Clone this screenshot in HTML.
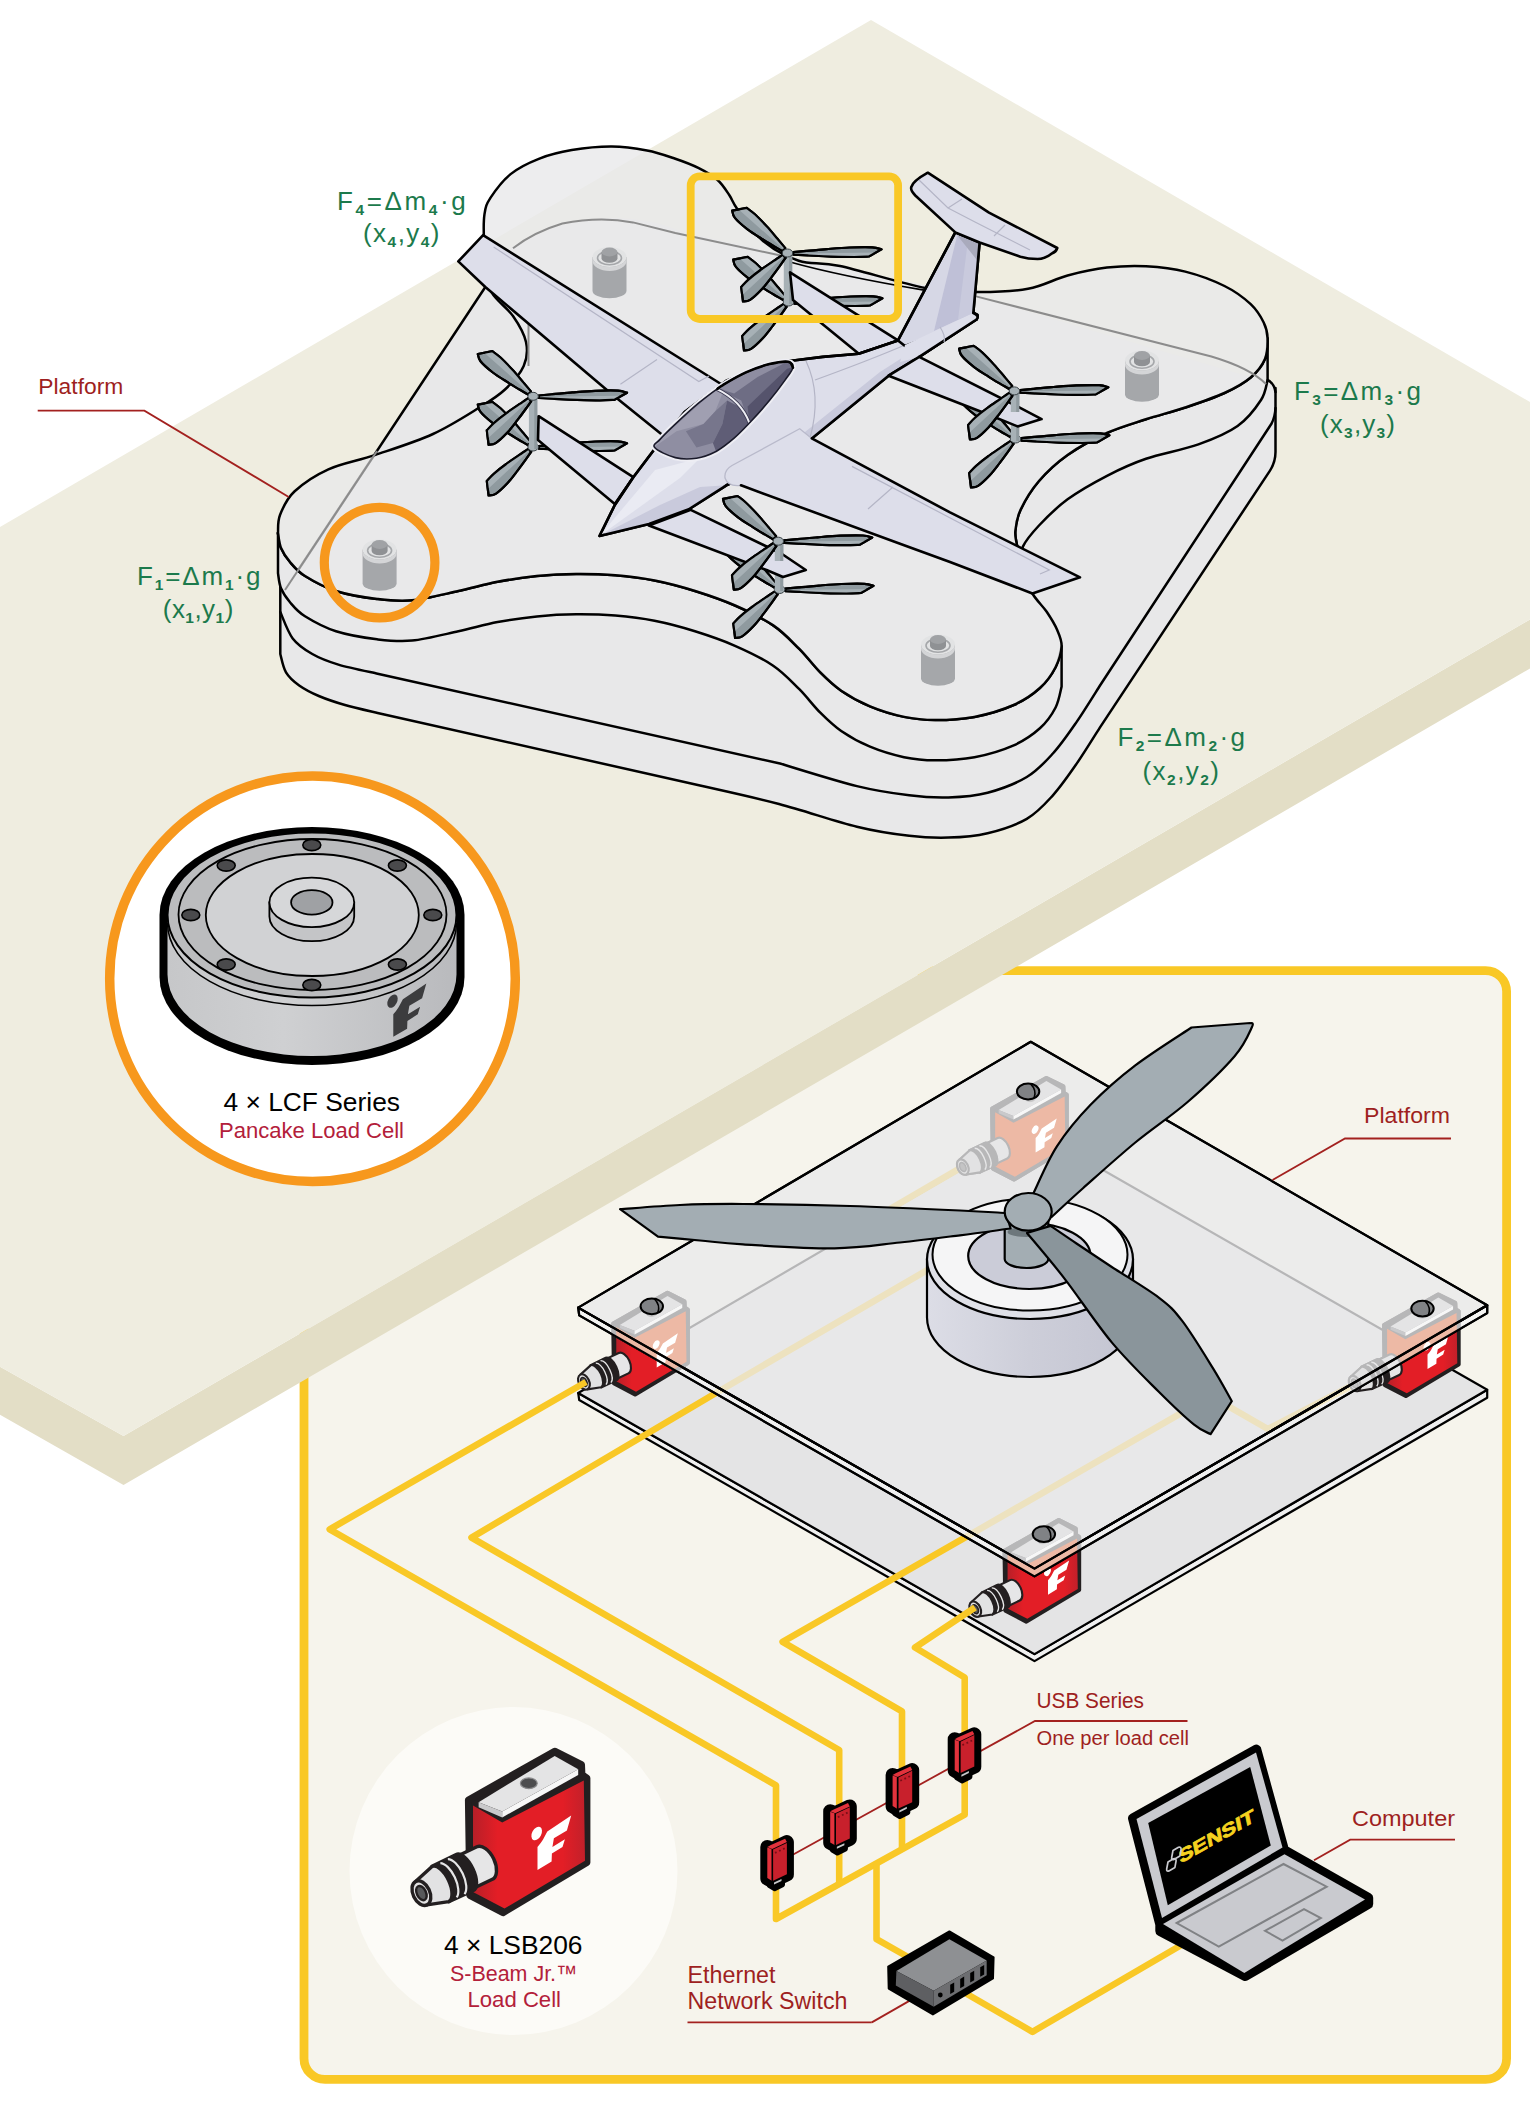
<!DOCTYPE html>
<html><head><meta charset="utf-8"><title>Thrust stand diagram</title>
<style>html,body{margin:0;padding:0;background:#fff}svg{display:block}text{font-family:"Liberation Sans",sans-serif}</style>
</head><body>
<svg width="1530" height="2111" viewBox="0 0 1530 2111">
<rect x="304" y="970.6" width="1202.6" height="1108.8" rx="21" ry="21" fill="#f6f4ec" stroke="#f9c826" stroke-width="8.8"/>
<circle cx="513.5" cy="1871" r="164" fill="#fcfbf7"/>
<path d="M0,1366.7 L123.5,1436 L1530,619.5 L1530,668.5 L123.5,1485 L0,1414.7Z" fill="#e3dec6"/>
<path d="M871,20 L1530,402 L1530,619.5 L123.5,1436 L0,1366.7 L0,527Z" fill="#efede0"/>
<path d="M280.3,590 L280.3,654 C281.2,657.1 282.9,667.1 286.0,672.4 C289.1,677.6 293.7,681.6 299.2,685.5 C304.7,689.4 311.2,692.8 318.8,696.0 C326.4,699.2 335.2,702.2 345.0,705.0 C354.8,707.8 372.2,711.7 377.6,713.0 L700,785.5 C713.2,788.6 752.9,797.1 779.0,804.0 C805.1,810.9 835.2,821.4 856.9,826.7 C878.6,832.0 894.0,834.0 909.2,835.8 C924.5,837.6 935.3,838.0 948.4,837.6 C961.5,837.2 974.5,836.3 987.6,833.2 C1000.7,830.1 1015.9,825.1 1026.8,818.8 C1037.7,812.5 1044.6,804.4 1052.9,795.3 C1061.2,786.1 1068.7,775.2 1076.5,763.9 C1084.3,752.6 1096.1,733.4 1100.0,727.3 L1270,470.6 Q1275.5,462 1275.5,452 L1275.5,385 L1263.7,381 L976,296.4 L686,233 Q620,205 550,229 L511.4,247.6 L285,590Z" fill="#e8e8e9"/>
<path d="M280.3,573 L280.3,654 C281.2,657.1 282.9,667.1 286.0,672.4 C289.1,677.6 293.7,681.6 299.2,685.5 C304.7,689.4 311.2,692.8 318.8,696.0 C326.4,699.2 335.2,702.2 345.0,705.0 C354.8,707.8 372.2,711.7 377.6,713.0 L700,785.5 C713.2,788.6 752.9,797.1 779.0,804.0 C805.1,810.9 835.2,821.4 856.9,826.7 C878.6,832.0 894.0,834.0 909.2,835.8 C924.5,837.6 935.3,838.0 948.4,837.6 C961.5,837.2 974.5,836.3 987.6,833.2 C1000.7,830.1 1015.9,825.1 1026.8,818.8 C1037.7,812.5 1044.6,804.4 1052.9,795.3 C1061.2,786.1 1068.7,775.2 1076.5,763.9 C1084.3,752.6 1096.1,733.4 1100.0,727.3 L1270,470.6 Q1275.5,462 1275.5,452 L1275.5,388" fill="none" stroke="#000" stroke-width="2.5" stroke-linejoin="round" stroke-linecap="round"/>
<path d="M280.3,612 C282.4,616.4 287.4,631.4 292.7,638.4 C298.0,645.4 304.7,649.6 312.3,654.0 C319.9,658.4 327.5,661.3 338.4,664.6 C349.3,667.9 371.1,672.2 377.6,673.7 L780,763.5 C792.8,767.3 835.4,780.8 856.9,786.1 C878.4,791.4 894.0,793.4 909.2,795.3 C924.5,797.2 935.3,797.8 948.4,797.4 C961.5,797.0 974.5,796.1 987.6,792.7 C1000.7,789.3 1015.9,783.5 1026.8,777.0 C1037.7,770.5 1044.6,762.6 1052.9,753.5 C1061.2,744.4 1068.7,733.4 1076.5,722.1 C1084.3,710.8 1096.1,691.6 1100.0,685.5 L1271.6,423.5 Q1275,417 1275.5,408" fill="none" stroke="#000" stroke-width="2.5" stroke-linejoin="round" stroke-linecap="round"/>
<path d="M486,286 L285,590" fill="none" stroke="#000" stroke-width="2.5" stroke-linejoin="round" stroke-linecap="round"/>
<path d="M278.0,533.0 C278.5,535.5 279.0,543.2 281.0,548.0 C283.0,552.8 286.0,557.3 290.0,562.0 C294.0,566.7 297.3,571.2 305.0,576.0 C312.7,580.8 324.0,587.2 336.0,591.0 C348.0,594.8 364.3,597.5 377.0,599.0 C389.7,600.5 398.4,601.6 412.0,600.3 C425.6,599.0 444.1,594.1 458.4,591.0 C472.7,587.9 484.5,584.3 497.6,581.8 C510.7,579.3 523.8,577.4 536.9,576.1 C550.0,574.8 563.0,574.1 576.1,574.0 C589.2,573.9 602.2,574.2 615.3,575.3 C628.4,576.4 641.2,577.9 654.5,580.5 C667.8,583.1 681.6,586.8 695.0,591.0 C708.4,595.2 722.0,599.8 735.0,605.5 C748.0,611.2 762.5,618.2 773.2,625.4 C783.9,632.6 791.4,641.1 799.3,648.9 C807.1,656.7 813.3,665.4 820.3,672.4 C827.3,679.4 832.9,685.0 841.2,690.7 C849.5,696.4 859.5,702.0 870.0,706.4 C880.5,710.8 893.1,714.6 904.0,716.9 C914.9,719.2 923.5,720.0 935.3,720.0 C947.0,720.0 961.4,719.4 974.5,716.9 C987.6,714.4 1002.8,709.8 1013.7,705.0 C1024.6,700.2 1032.9,694.3 1039.9,688.0 C1046.9,681.7 1052.0,674.2 1055.6,667.2 C1059.2,660.2 1060.6,649.8 1061.6,646.3 L1061.6,686.6 C1060.6,690.1 1059.2,700.5 1055.6,707.5 C1052.0,714.5 1046.9,722.0 1039.9,728.3 C1032.9,734.6 1024.6,740.5 1013.7,745.3 C1002.8,750.1 987.6,754.7 974.5,757.2 C961.4,759.7 947.0,760.3 935.3,760.3 C923.5,760.3 914.9,759.5 904.0,757.2 C893.1,754.9 880.5,751.1 870.0,746.7 C859.5,742.3 849.5,736.7 841.2,731.0 C832.9,725.3 827.3,719.7 820.3,712.7 C813.3,705.7 807.1,697.0 799.3,689.2 C791.4,681.4 783.9,672.9 773.2,665.7 C762.5,658.5 748.0,651.5 735.0,645.8 C722.0,640.1 708.4,635.5 695.0,631.3 C681.6,627.1 667.8,623.4 654.5,620.8 C641.2,618.2 628.4,616.7 615.3,615.6 C602.2,614.5 589.2,614.2 576.1,614.3 C563.0,614.4 550.0,615.1 536.9,616.4 C523.8,617.7 510.7,619.6 497.6,622.1 C484.5,624.6 472.7,628.2 458.4,631.3 C444.1,634.4 425.6,639.3 412.0,640.6 C398.4,641.9 389.7,640.8 377.0,639.3 C364.3,637.8 348.0,635.1 336.0,631.3 C324.0,627.5 312.7,621.1 305.0,616.3 C297.3,611.5 294.0,607.0 290.0,602.3 C286.0,597.6 283.0,593.1 281.0,588.3 C279.0,583.5 278.5,575.8 278.0,573.3Z" fill="#e8e8e9" stroke="#000" stroke-width="2.5" stroke-linejoin="round" stroke-linecap="round"/>
<path d="M1267.6,338.2 C1267.2,341.7 1267.8,352.4 1265.0,359.0 C1262.2,365.6 1257.5,371.8 1250.7,377.5 C1244.0,383.2 1235.4,388.0 1224.5,393.0 C1213.6,398.0 1198.4,403.1 1185.3,407.5 C1172.2,411.9 1159.0,415.1 1146.0,419.3 C1133.0,423.6 1120.1,427.1 1107.0,433.0 C1093.9,438.9 1078.9,447.0 1067.6,455.0 C1056.3,463.0 1046.8,471.9 1039.0,481.0 C1031.2,490.1 1024.5,501.5 1020.6,509.8 C1016.7,518.1 1016.0,525.0 1015.4,530.7 C1014.8,536.4 1016.5,541.6 1016.7,543.8 L1022.0,560.0 C1022.2,557.7 1020.2,552.1 1023.0,546.4 C1025.8,540.6 1031.6,533.4 1039.0,525.5 C1046.4,517.6 1056.3,507.6 1067.6,499.3 C1078.9,491.0 1093.9,482.6 1107.0,475.8 C1120.1,469.1 1130.8,464.0 1146.0,458.8 C1161.2,453.6 1183.1,449.9 1198.4,444.4 C1213.7,438.9 1227.2,433.4 1237.6,426.0 C1248.0,418.6 1256.0,407.7 1261.0,400.0 C1266.0,392.3 1266.5,383.3 1267.6,380.0Z" fill="#e8e8e9" stroke="#000" stroke-width="2.5" stroke-linejoin="round" stroke-linecap="round"/>
<path d="M1267.6,380 Q1274,383 1275.5,392" fill="none" stroke="#000" stroke-width="2.5" stroke-linejoin="round" stroke-linecap="round"/>
<path d="M278.0,533.0 C278.3,530.0 277.3,521.9 280.0,515.0 C282.7,508.1 286.3,499.1 294.4,491.5 C302.5,483.9 314.9,475.4 328.4,469.3 C341.9,463.2 358.1,460.8 375.5,454.9 C392.9,449.0 415.8,441.9 433.0,434.0 C450.2,426.1 467.0,415.2 479.0,407.8 C491.0,400.4 497.6,396.5 505.0,389.5 C512.5,382.5 520.2,373.9 523.7,366.0 C527.2,358.1 527.8,350.3 526.0,342.0 C524.2,333.7 518.7,324.2 513.0,316.0 C507.3,307.8 496.3,300.7 492.0,293.0 C487.7,285.3 488.3,278.8 487.0,270.0 C485.7,261.2 484.4,249.3 484.0,240.0 C483.6,230.7 483.4,221.2 484.5,214.1 C485.6,207.0 486.2,204.3 490.6,197.6 C495.0,190.9 502.6,180.6 510.6,174.1 C518.6,167.6 528.6,162.8 538.8,158.8 C549.0,154.8 559.6,152.1 571.8,150.1 C584.0,148.1 599.3,146.5 611.8,146.6 C624.3,146.7 636.4,148.6 647.0,150.6 C657.6,152.6 666.7,155.9 675.3,158.8 C683.9,161.7 691.8,164.7 698.8,168.2 C705.8,171.7 712.5,175.5 717.6,180.0 C722.7,184.5 726.1,190.4 729.4,195.3 C732.7,200.2 732.2,202.0 737.6,209.4 C743.0,216.8 751.8,231.4 762.0,240.0 C772.2,248.6 785.7,256.4 798.7,260.7 C811.7,265.0 818.9,261.4 840.0,266.0 C861.1,270.6 902.9,283.7 925.5,288.0 C948.1,292.3 958.6,291.9 975.7,292.0 C992.8,292.1 1012.7,291.6 1028.0,288.8 C1043.3,286.1 1054.4,279.0 1067.6,275.5 C1080.8,272.0 1093.8,269.1 1106.9,267.6 C1120.0,266.1 1132.9,265.6 1146.0,266.3 C1159.1,267.0 1172.2,268.3 1185.3,271.6 C1198.4,274.9 1213.6,280.6 1224.5,286.0 C1235.4,291.4 1244.2,298.1 1250.7,304.2 C1257.2,310.3 1260.9,316.8 1263.7,322.5 C1266.5,328.2 1267.4,332.1 1267.6,338.2 C1267.8,344.3 1267.8,352.4 1265.0,359.0 C1262.2,365.6 1257.5,371.8 1250.7,377.5 C1244.0,383.2 1235.4,388.0 1224.5,393.0 C1213.6,398.0 1198.4,403.1 1185.3,407.5 C1172.2,411.9 1159.0,415.1 1146.0,419.3 C1133.0,423.6 1120.1,427.1 1107.0,433.0 C1093.9,438.9 1078.9,447.0 1067.6,455.0 C1056.3,463.0 1046.8,471.9 1039.0,481.0 C1031.2,490.1 1024.5,501.5 1020.6,509.8 C1016.7,518.1 1016.0,525.0 1015.4,530.7 C1014.8,536.4 1015.8,537.6 1016.7,543.8 C1017.6,550.0 1018.4,559.7 1021.0,568.0 C1023.6,576.3 1028.1,586.2 1032.4,593.5 C1036.7,600.8 1042.6,605.7 1046.7,611.8 C1050.8,617.9 1054.7,624.2 1057.2,630.0 C1059.7,635.8 1061.9,640.1 1061.6,646.3 C1061.3,652.5 1059.2,660.2 1055.6,667.2 C1052.0,674.2 1046.9,681.7 1039.9,688.0 C1032.9,694.3 1024.6,700.2 1013.7,705.0 C1002.8,709.8 987.6,714.4 974.5,716.9 C961.4,719.4 947.0,720.0 935.3,720.0 C923.5,720.0 914.9,719.2 904.0,716.9 C893.1,714.6 880.5,710.8 870.0,706.4 C859.5,702.0 849.5,696.4 841.2,690.7 C832.9,685.0 827.3,679.4 820.3,672.4 C813.3,665.4 807.1,656.7 799.3,648.9 C791.4,641.1 783.9,632.6 773.2,625.4 C762.5,618.2 748.0,611.2 735.0,605.5 C722.0,599.8 708.4,595.2 695.0,591.0 C681.6,586.8 667.8,583.1 654.5,580.5 C641.2,577.9 628.4,576.4 615.3,575.3 C602.2,574.2 589.2,573.9 576.1,574.0 C563.0,574.1 550.0,574.8 536.9,576.1 C523.8,577.4 510.7,579.3 497.6,581.8 C484.5,584.3 472.7,587.9 458.4,591.0 C444.1,594.1 425.6,599.0 412.0,600.3 C398.4,601.6 389.7,600.5 377.0,599.0 C364.3,597.5 348.0,594.8 336.0,591.0 C324.0,587.2 312.7,580.8 305.0,576.0 C297.3,571.2 294.0,566.7 290.0,562.0 C286.0,557.3 283.0,552.8 281.0,548.0 C279.0,543.2 278.5,535.5 278.0,533.0 C277.5,530.5 277.7,536.0 278.0,533.0Z" fill="#e9e9ea" fill-opacity="0.8" stroke="#000" stroke-width="2.5" stroke-linejoin="round" stroke-linecap="round"/>
<path d="M790,262 Q840,276 925.5,290.4" fill="none" stroke="#000" stroke-width="1.8"/>
<path d="M377,451 L285,590" fill="none" stroke="#8c8c8c" stroke-width="2"/>
<path d="M513,248.2 Q534,232 562.4,223.5 Q600,216 633,222.4 L675.3,233 L783,256" fill="none" stroke="#8c8c8c" stroke-width="2"/>
<path d="M976,296.4 L1211.4,356.5 Q1250,368 1266,384" fill="none" stroke="#8c8c8c" stroke-width="2"/>
<path d="M528.5,323 L528.5,366" fill="none" stroke="#8c8c8c" stroke-width="2"/>
<g>
<path d="M362.6,549.5 L362.6,583.2 a17,7.5 0 0 0 34,0 L396.6,549.5 z" fill="#a5a7aa"/>
<path d="M362.6,549.5 a17,10 0 0 0 34,0 v4 a17,10 0 0 1 -34,0z" fill="#d4d5d7"/>
<ellipse cx="379.6" cy="549.5" rx="17" ry="10" fill="#e2e3e4"/>
<ellipse cx="379.6" cy="550.5" rx="12" ry="6.8" fill="none" stroke="#a5a7aa" stroke-width="1.6"/>
<path d="M371.6,544.5 v6.5 a8,4.2 0 0 0 16,0 v-6.5z" fill="#8f9194"/>
<ellipse cx="379.6" cy="544.5" rx="8" ry="4.4" fill="#a0a2a5"/>
</g>
<g>
<path d="M1125.0,360.5 L1125.0,394.2 a17,7.5 0 0 0 34,0 L1159.0,360.5 z" fill="#a5a7aa"/>
<path d="M1125.0,360.5 a17,10 0 0 0 34,0 v4 a17,10 0 0 1 -34,0z" fill="#d4d5d7"/>
<ellipse cx="1142.0" cy="360.5" rx="17" ry="10" fill="#e2e3e4"/>
<ellipse cx="1142.0" cy="361.5" rx="12" ry="6.8" fill="none" stroke="#a5a7aa" stroke-width="1.6"/>
<path d="M1134.0,355.5 v6.5 a8,4.2 0 0 0 16,0 v-6.5z" fill="#8f9194"/>
<ellipse cx="1142.0" cy="355.5" rx="8" ry="4.4" fill="#a0a2a5"/>
</g>
<g>
<path d="M921.0,644.5 L921.0,678.2 a17,7.5 0 0 0 34,0 L955.0,644.5 z" fill="#a5a7aa"/>
<path d="M921.0,644.5 a17,10 0 0 0 34,0 v4 a17,10 0 0 1 -34,0z" fill="#d4d5d7"/>
<ellipse cx="938.0" cy="644.5" rx="17" ry="10" fill="#e2e3e4"/>
<ellipse cx="938.0" cy="645.5" rx="12" ry="6.8" fill="none" stroke="#a5a7aa" stroke-width="1.6"/>
<path d="M930.0,639.5 v6.5 a8,4.2 0 0 0 16,0 v-6.5z" fill="#8f9194"/>
<ellipse cx="938.0" cy="639.5" rx="8" ry="4.4" fill="#a0a2a5"/>
</g>
<g>
<path d="M592.5,257.0 L592.5,290.7 a17,7.5 0 0 0 34,0 L626.5,257.0 z" fill="#a5a7aa"/>
<path d="M592.5,257.0 a17,10 0 0 0 34,0 v4 a17,10 0 0 1 -34,0z" fill="#d4d5d7"/>
<ellipse cx="609.5" cy="257.0" rx="17" ry="10" fill="#e2e3e4"/>
<ellipse cx="609.5" cy="258.0" rx="12" ry="6.8" fill="none" stroke="#a5a7aa" stroke-width="1.6"/>
<path d="M601.5,252.0 v6.5 a8,4.2 0 0 0 16,0 v-6.5z" fill="#8f9194"/>
<ellipse cx="609.5" cy="252.0" rx="8" ry="4.4" fill="#a0a2a5"/>
</g>
<circle cx="379.6" cy="562.6" r="55.3" fill="none" stroke="#f7981d" stroke-width="9.2"/>
<path d="M783.7,303.8 C782.2,304.9 778.4,307.4 774.7,309.9 C771.0,312.5 765.8,315.8 761.6,319.0 C757.3,322.1 752.4,326.0 749.2,328.9 C746.0,331.7 743.4,334.9 742.2,336.1 L744.0,350.5 C745.2,350.2 748.0,350.9 751.1,348.9 C754.3,346.8 759.2,342.1 762.8,338.3 C766.4,334.5 769.7,329.9 772.8,325.9 C775.8,322.0 778.8,317.9 781.1,314.7 C783.4,311.5 785.7,308.1 786.6,306.8Z" fill="#8f9a9f" stroke="#000" stroke-width="2.2" stroke-linejoin="round" stroke-linecap="round"/>
<path d="M783.7,303.8 C782.2,304.9 778.4,307.4 774.7,309.9 C771.0,312.5 765.8,315.8 761.6,319.0 C757.3,322.1 752.4,326.0 749.2,328.9 C746.0,331.7 743.4,334.9 742.2,336.1 L742.6,344.7 L785.6,304.9 Z" fill="#a7b1b6"/>
<path d="M783.7,303.8 C782.2,304.9 778.4,307.4 774.7,309.9 C771.0,312.5 765.8,315.8 761.6,319.0 C757.3,322.1 752.4,326.0 749.2,328.9 C746.0,331.7 743.4,334.9 742.2,336.1 L744.0,350.5 C745.2,350.2 748.0,350.9 751.1,348.9 C754.3,346.8 759.2,342.1 762.8,338.3 C766.4,334.5 769.7,329.9 772.8,325.9 C775.8,322.0 778.8,317.9 781.1,314.7 C783.4,311.5 785.7,308.1 786.6,306.8Z" fill="none" stroke="#000" stroke-width="2.2" stroke-linejoin="round" stroke-linecap="round"/>
<path d="M794.3,303.7 C796.8,303.8 803.4,304.2 809.8,304.5 C816.1,304.8 824.9,305.3 832.5,305.6 C840.1,305.8 849.1,306.0 855.3,306.0 C861.5,306.0 867.4,305.6 869.9,305.5 L882.5,298.4 C880.9,298.1 878.6,296.7 873.3,296.3 C868.0,296.0 858.1,296.2 850.5,296.5 C843.0,296.7 834.9,297.5 827.8,298.1 C820.7,298.7 813.4,299.3 807.8,299.9 C802.2,300.4 796.5,301.0 794.2,301.2Z" fill="#8f9a9f" stroke="#000" stroke-width="2.2" stroke-linejoin="round" stroke-linecap="round"/>
<path d="M794.3,303.7 C796.8,303.8 803.4,304.2 809.8,304.5 C816.1,304.8 824.9,305.3 832.5,305.6 C840.1,305.8 849.1,306.0 855.3,306.0 C861.5,306.0 867.4,305.6 869.9,305.5 L878.0,301.5 L793.3,302.5 Z" fill="#a7b1b6"/>
<path d="M794.3,303.7 C796.8,303.8 803.4,304.2 809.8,304.5 C816.1,304.8 824.9,305.3 832.5,305.6 C840.1,305.8 849.1,306.0 855.3,306.0 C861.5,306.0 867.4,305.6 869.9,305.5 L882.5,298.4 C880.9,298.1 878.6,296.7 873.3,296.3 C868.0,296.0 858.1,296.2 850.5,296.5 C843.0,296.7 834.9,297.5 827.8,298.1 C820.7,298.7 813.4,299.3 807.8,299.9 C802.2,300.4 796.5,301.0 794.2,301.2Z" fill="none" stroke="#000" stroke-width="2.2" stroke-linejoin="round" stroke-linecap="round"/>
<path d="M786.3,297.1 C785.1,295.7 781.9,291.9 778.9,288.3 C775.8,284.7 771.7,279.6 767.9,275.5 C764.1,271.4 759.5,266.6 756.2,263.5 C752.8,260.4 749.2,258.0 747.8,256.9 L733.2,259.7 C733.7,260.9 733.4,263.8 735.9,266.9 C738.3,270.0 743.8,274.7 748.2,278.2 C752.6,281.6 757.7,284.6 762.2,287.4 C766.6,290.3 771.3,293.1 774.8,295.2 C778.4,297.3 782.2,299.4 783.6,300.3Z" fill="#8f9a9f" stroke="#000" stroke-width="2.2" stroke-linejoin="round" stroke-linecap="round"/>
<path d="M786.3,297.1 C785.1,295.7 781.9,291.9 778.9,288.3 C775.8,284.7 771.7,279.6 767.9,275.5 C764.1,271.4 759.5,266.6 756.2,263.5 C752.8,260.4 749.2,258.0 747.8,256.9 L739.1,257.9 L785.5,299.1 Z" fill="#a7b1b6"/>
<path d="M786.3,297.1 C785.1,295.7 781.9,291.9 778.9,288.3 C775.8,284.7 771.7,279.6 767.9,275.5 C764.1,271.4 759.5,266.6 756.2,263.5 C752.8,260.4 749.2,258.0 747.8,256.9 L733.2,259.7 C733.7,260.9 733.4,263.8 735.9,266.9 C738.3,270.0 743.8,274.7 748.2,278.2 C752.6,281.6 757.7,284.6 762.2,287.4 C766.6,290.3 771.3,293.1 774.8,295.2 C778.4,297.3 782.2,299.4 783.6,300.3Z" fill="none" stroke="#000" stroke-width="2.2" stroke-linejoin="round" stroke-linecap="round"/>
<ellipse cx="788.5" cy="302.0" rx="5.2" ry="4" fill="#a7b1b6" stroke="#3a4246" stroke-width="1"/>
<rect x="783.8" y="254.0" width="8.4" height="50.0" fill="#a7b1b6"/>
<rect x="789.2" y="254.0" width="3" height="50.0" fill="#8f9a9f"/>
<path d="M790,272.4 L898,340.4 L858.8,353.7 L793,300 Z" fill="#dddeea" stroke="#000" stroke-width="2.6" stroke-linejoin="round" stroke-linecap="round"/>
<path d="M782.7,254.8 C781.2,255.9 777.4,258.4 773.7,260.9 C770.0,263.5 764.8,266.8 760.6,270.0 C756.3,273.1 751.4,277.0 748.2,279.9 C745.0,282.7 742.4,285.9 741.2,287.1 L743.0,301.5 C744.2,301.2 747.0,301.9 750.1,299.9 C753.3,297.8 758.2,293.1 761.8,289.3 C765.4,285.5 768.7,280.9 771.8,276.9 C774.8,273.0 777.8,268.9 780.1,265.7 C782.4,262.5 784.7,259.1 785.6,257.8Z" fill="#8f9a9f" stroke="#000" stroke-width="2.2" stroke-linejoin="round" stroke-linecap="round"/>
<path d="M782.7,254.8 C781.2,255.9 777.4,258.4 773.7,260.9 C770.0,263.5 764.8,266.8 760.6,270.0 C756.3,273.1 751.4,277.0 748.2,279.9 C745.0,282.7 742.4,285.9 741.2,287.1 L741.6,295.7 L784.6,255.9 Z" fill="#a7b1b6"/>
<path d="M782.7,254.8 C781.2,255.9 777.4,258.4 773.7,260.9 C770.0,263.5 764.8,266.8 760.6,270.0 C756.3,273.1 751.4,277.0 748.2,279.9 C745.0,282.7 742.4,285.9 741.2,287.1 L743.0,301.5 C744.2,301.2 747.0,301.9 750.1,299.9 C753.3,297.8 758.2,293.1 761.8,289.3 C765.4,285.5 768.7,280.9 771.8,276.9 C774.8,273.0 777.8,268.9 780.1,265.7 C782.4,262.5 784.7,259.1 785.6,257.8Z" fill="none" stroke="#000" stroke-width="2.2" stroke-linejoin="round" stroke-linecap="round"/>
<path d="M793.3,254.7 C795.8,254.8 802.4,255.2 808.8,255.5 C815.1,255.8 823.9,256.3 831.5,256.6 C839.1,256.8 848.1,257.0 854.3,257.0 C860.5,257.0 866.4,256.6 868.9,256.5 L881.5,249.4 C879.9,249.1 877.6,247.7 872.3,247.3 C867.0,247.0 857.1,247.2 849.5,247.5 C842.0,247.7 833.9,248.5 826.8,249.1 C819.7,249.7 812.4,250.3 806.8,250.9 C801.2,251.4 795.5,252.0 793.2,252.2Z" fill="#8f9a9f" stroke="#000" stroke-width="2.2" stroke-linejoin="round" stroke-linecap="round"/>
<path d="M793.3,254.7 C795.8,254.8 802.4,255.2 808.8,255.5 C815.1,255.8 823.9,256.3 831.5,256.6 C839.1,256.8 848.1,257.0 854.3,257.0 C860.5,257.0 866.4,256.6 868.9,256.5 L877.0,252.5 L792.3,253.5 Z" fill="#a7b1b6"/>
<path d="M793.3,254.7 C795.8,254.8 802.4,255.2 808.8,255.5 C815.1,255.8 823.9,256.3 831.5,256.6 C839.1,256.8 848.1,257.0 854.3,257.0 C860.5,257.0 866.4,256.6 868.9,256.5 L881.5,249.4 C879.9,249.1 877.6,247.7 872.3,247.3 C867.0,247.0 857.1,247.2 849.5,247.5 C842.0,247.7 833.9,248.5 826.8,249.1 C819.7,249.7 812.4,250.3 806.8,250.9 C801.2,251.4 795.5,252.0 793.2,252.2Z" fill="none" stroke="#000" stroke-width="2.2" stroke-linejoin="round" stroke-linecap="round"/>
<path d="M785.3,248.1 C784.1,246.7 780.9,242.9 777.9,239.3 C774.8,235.7 770.7,230.6 766.9,226.5 C763.1,222.4 758.5,217.6 755.2,214.5 C751.8,211.4 748.2,209.0 746.8,207.9 L732.2,210.7 C732.7,211.9 732.4,214.8 734.9,217.9 C737.3,221.0 742.8,225.7 747.2,229.2 C751.6,232.6 756.7,235.6 761.2,238.4 C765.6,241.3 770.3,244.1 773.8,246.2 C777.4,248.3 781.2,250.4 782.6,251.3Z" fill="#8f9a9f" stroke="#000" stroke-width="2.2" stroke-linejoin="round" stroke-linecap="round"/>
<path d="M785.3,248.1 C784.1,246.7 780.9,242.9 777.9,239.3 C774.8,235.7 770.7,230.6 766.9,226.5 C763.1,222.4 758.5,217.6 755.2,214.5 C751.8,211.4 748.2,209.0 746.8,207.9 L738.1,208.9 L784.5,250.1 Z" fill="#a7b1b6"/>
<path d="M785.3,248.1 C784.1,246.7 780.9,242.9 777.9,239.3 C774.8,235.7 770.7,230.6 766.9,226.5 C763.1,222.4 758.5,217.6 755.2,214.5 C751.8,211.4 748.2,209.0 746.8,207.9 L732.2,210.7 C732.7,211.9 732.4,214.8 734.9,217.9 C737.3,221.0 742.8,225.7 747.2,229.2 C751.6,232.6 756.7,235.6 761.2,238.4 C765.6,241.3 770.3,244.1 773.8,246.2 C777.4,248.3 781.2,250.4 782.6,251.3Z" fill="none" stroke="#000" stroke-width="2.2" stroke-linejoin="round" stroke-linecap="round"/>
<ellipse cx="787.5" cy="253.0" rx="5.2" ry="4" fill="#a7b1b6" stroke="#3a4246" stroke-width="1"/>
<path d="M528.3,448.8 C526.8,449.9 523.0,452.4 519.3,454.9 C515.6,457.5 510.4,460.8 506.2,464.0 C501.9,467.1 497.0,471.0 493.8,473.9 C490.6,476.7 488.0,479.9 486.8,481.1 L488.6,495.5 C489.8,495.2 492.6,495.9 495.7,493.9 C498.9,491.8 503.8,487.1 507.4,483.3 C511.0,479.5 514.3,474.9 517.4,470.9 C520.4,467.0 523.4,462.9 525.7,459.7 C528.0,456.5 530.3,453.1 531.2,451.8Z" fill="#8f9a9f" stroke="#000" stroke-width="2.2" stroke-linejoin="round" stroke-linecap="round"/>
<path d="M528.3,448.8 C526.8,449.9 523.0,452.4 519.3,454.9 C515.6,457.5 510.4,460.8 506.2,464.0 C501.9,467.1 497.0,471.0 493.8,473.9 C490.6,476.7 488.0,479.9 486.8,481.1 L487.2,489.7 L530.2,449.9 Z" fill="#a7b1b6"/>
<path d="M528.3,448.8 C526.8,449.9 523.0,452.4 519.3,454.9 C515.6,457.5 510.4,460.8 506.2,464.0 C501.9,467.1 497.0,471.0 493.8,473.9 C490.6,476.7 488.0,479.9 486.8,481.1 L488.6,495.5 C489.8,495.2 492.6,495.9 495.7,493.9 C498.9,491.8 503.8,487.1 507.4,483.3 C511.0,479.5 514.3,474.9 517.4,470.9 C520.4,467.0 523.4,462.9 525.7,459.7 C528.0,456.5 530.3,453.1 531.2,451.8Z" fill="none" stroke="#000" stroke-width="2.2" stroke-linejoin="round" stroke-linecap="round"/>
<path d="M538.9,448.7 C541.4,448.8 548.0,449.2 554.4,449.5 C560.7,449.8 569.5,450.3 577.1,450.6 C584.7,450.8 593.7,451.0 599.9,451.0 C606.1,451.0 612.0,450.6 614.5,450.5 L627.1,443.4 C625.5,443.1 623.2,441.7 617.9,441.3 C612.6,441.0 602.7,441.2 595.1,441.5 C587.6,441.7 579.5,442.5 572.4,443.1 C565.3,443.7 558.0,444.3 552.4,444.9 C546.8,445.4 541.1,446.0 538.8,446.2Z" fill="#8f9a9f" stroke="#000" stroke-width="2.2" stroke-linejoin="round" stroke-linecap="round"/>
<path d="M538.9,448.7 C541.4,448.8 548.0,449.2 554.4,449.5 C560.7,449.8 569.5,450.3 577.1,450.6 C584.7,450.8 593.7,451.0 599.9,451.0 C606.1,451.0 612.0,450.6 614.5,450.5 L622.6,446.5 L537.9,447.5 Z" fill="#a7b1b6"/>
<path d="M538.9,448.7 C541.4,448.8 548.0,449.2 554.4,449.5 C560.7,449.8 569.5,450.3 577.1,450.6 C584.7,450.8 593.7,451.0 599.9,451.0 C606.1,451.0 612.0,450.6 614.5,450.5 L627.1,443.4 C625.5,443.1 623.2,441.7 617.9,441.3 C612.6,441.0 602.7,441.2 595.1,441.5 C587.6,441.7 579.5,442.5 572.4,443.1 C565.3,443.7 558.0,444.3 552.4,444.9 C546.8,445.4 541.1,446.0 538.8,446.2Z" fill="none" stroke="#000" stroke-width="2.2" stroke-linejoin="round" stroke-linecap="round"/>
<path d="M530.9,442.1 C529.7,440.7 526.5,436.9 523.5,433.3 C520.4,429.7 516.3,424.6 512.5,420.5 C508.7,416.4 504.1,411.6 500.8,408.5 C497.4,405.4 493.8,403.0 492.4,401.9 L477.8,404.7 C478.3,405.9 478.0,408.8 480.5,411.9 C482.9,415.0 488.4,419.7 492.8,423.2 C497.2,426.6 502.3,429.6 506.8,432.4 C511.2,435.3 515.9,438.1 519.4,440.2 C523.0,442.3 526.8,444.4 528.2,445.3Z" fill="#8f9a9f" stroke="#000" stroke-width="2.2" stroke-linejoin="round" stroke-linecap="round"/>
<path d="M530.9,442.1 C529.7,440.7 526.5,436.9 523.5,433.3 C520.4,429.7 516.3,424.6 512.5,420.5 C508.7,416.4 504.1,411.6 500.8,408.5 C497.4,405.4 493.8,403.0 492.4,401.9 L483.7,402.9 L530.1,444.1 Z" fill="#a7b1b6"/>
<path d="M530.9,442.1 C529.7,440.7 526.5,436.9 523.5,433.3 C520.4,429.7 516.3,424.6 512.5,420.5 C508.7,416.4 504.1,411.6 500.8,408.5 C497.4,405.4 493.8,403.0 492.4,401.9 L477.8,404.7 C478.3,405.9 478.0,408.8 480.5,411.9 C482.9,415.0 488.4,419.7 492.8,423.2 C497.2,426.6 502.3,429.6 506.8,432.4 C511.2,435.3 515.9,438.1 519.4,440.2 C523.0,442.3 526.8,444.4 528.2,445.3Z" fill="none" stroke="#000" stroke-width="2.2" stroke-linejoin="round" stroke-linecap="round"/>
<ellipse cx="533.1" cy="447.0" rx="5.2" ry="4" fill="#a7b1b6" stroke="#3a4246" stroke-width="1"/>
<rect x="528.9" y="398.0" width="8.4" height="51.0" fill="#a7b1b6"/>
<rect x="534.3" y="398.0" width="3" height="51.0" fill="#8f9a9f"/>
<path d="M483.1,235.2 L721,384 L740,400 L663.7,436 L612.5,394.7 L485.3,287 L458.3,261.4 Z" fill="#dddeea" stroke="#000" stroke-width="2.6" stroke-linejoin="round" stroke-linecap="round"/>
<path d="M493.6,247 L698.8,381.6 L709,376 M657,359.4 L620.4,384.2" fill="none" stroke="#b4b5c6" stroke-width="1.2"/>
<path d="M538.6,416.2 L633.3,477.2 L614.8,504 L549.6,449.8 L538,440 Z" fill="#dddeea" stroke="#000" stroke-width="2.6" stroke-linejoin="round" stroke-linecap="round"/>
<path d="M528.3,398.1 C526.8,399.2 523.0,401.7 519.3,404.2 C515.6,406.8 510.4,410.1 506.2,413.3 C501.9,416.4 497.0,420.3 493.8,423.2 C490.6,426.0 488.0,429.2 486.8,430.4 L488.6,444.8 C489.8,444.5 492.6,445.2 495.7,443.2 C498.9,441.1 503.8,436.4 507.4,432.6 C511.0,428.8 514.3,424.2 517.4,420.2 C520.4,416.3 523.4,412.2 525.7,409.0 C528.0,405.8 530.3,402.4 531.2,401.1Z" fill="#8f9a9f" stroke="#000" stroke-width="2.2" stroke-linejoin="round" stroke-linecap="round"/>
<path d="M528.3,398.1 C526.8,399.2 523.0,401.7 519.3,404.2 C515.6,406.8 510.4,410.1 506.2,413.3 C501.9,416.4 497.0,420.3 493.8,423.2 C490.6,426.0 488.0,429.2 486.8,430.4 L487.2,439.0 L530.2,399.2 Z" fill="#a7b1b6"/>
<path d="M528.3,398.1 C526.8,399.2 523.0,401.7 519.3,404.2 C515.6,406.8 510.4,410.1 506.2,413.3 C501.9,416.4 497.0,420.3 493.8,423.2 C490.6,426.0 488.0,429.2 486.8,430.4 L488.6,444.8 C489.8,444.5 492.6,445.2 495.7,443.2 C498.9,441.1 503.8,436.4 507.4,432.6 C511.0,428.8 514.3,424.2 517.4,420.2 C520.4,416.3 523.4,412.2 525.7,409.0 C528.0,405.8 530.3,402.4 531.2,401.1Z" fill="none" stroke="#000" stroke-width="2.2" stroke-linejoin="round" stroke-linecap="round"/>
<path d="M538.9,398.0 C541.4,398.1 548.0,398.5 554.4,398.8 C560.7,399.1 569.5,399.6 577.1,399.9 C584.7,400.1 593.7,400.3 599.9,400.3 C606.1,400.3 612.0,399.9 614.5,399.8 L627.1,392.7 C625.5,392.4 623.2,391.0 617.9,390.6 C612.6,390.3 602.7,390.5 595.1,390.8 C587.6,391.0 579.5,391.8 572.4,392.4 C565.3,393.0 558.0,393.6 552.4,394.2 C546.8,394.7 541.1,395.3 538.8,395.5Z" fill="#8f9a9f" stroke="#000" stroke-width="2.2" stroke-linejoin="round" stroke-linecap="round"/>
<path d="M538.9,398.0 C541.4,398.1 548.0,398.5 554.4,398.8 C560.7,399.1 569.5,399.6 577.1,399.9 C584.7,400.1 593.7,400.3 599.9,400.3 C606.1,400.3 612.0,399.9 614.5,399.8 L622.6,395.8 L537.9,396.8 Z" fill="#a7b1b6"/>
<path d="M538.9,398.0 C541.4,398.1 548.0,398.5 554.4,398.8 C560.7,399.1 569.5,399.6 577.1,399.9 C584.7,400.1 593.7,400.3 599.9,400.3 C606.1,400.3 612.0,399.9 614.5,399.8 L627.1,392.7 C625.5,392.4 623.2,391.0 617.9,390.6 C612.6,390.3 602.7,390.5 595.1,390.8 C587.6,391.0 579.5,391.8 572.4,392.4 C565.3,393.0 558.0,393.6 552.4,394.2 C546.8,394.7 541.1,395.3 538.8,395.5Z" fill="none" stroke="#000" stroke-width="2.2" stroke-linejoin="round" stroke-linecap="round"/>
<path d="M530.9,391.4 C529.7,390.0 526.5,386.2 523.5,382.6 C520.4,379.0 516.3,373.9 512.5,369.8 C508.7,365.7 504.1,360.9 500.8,357.8 C497.4,354.7 493.8,352.3 492.4,351.2 L477.8,354.0 C478.3,355.2 478.0,358.1 480.5,361.2 C482.9,364.3 488.4,369.0 492.8,372.5 C497.2,375.9 502.3,378.9 506.8,381.7 C511.2,384.6 515.9,387.4 519.4,389.5 C523.0,391.6 526.8,393.7 528.2,394.6Z" fill="#8f9a9f" stroke="#000" stroke-width="2.2" stroke-linejoin="round" stroke-linecap="round"/>
<path d="M530.9,391.4 C529.7,390.0 526.5,386.2 523.5,382.6 C520.4,379.0 516.3,373.9 512.5,369.8 C508.7,365.7 504.1,360.9 500.8,357.8 C497.4,354.7 493.8,352.3 492.4,351.2 L483.7,352.2 L530.1,393.4 Z" fill="#a7b1b6"/>
<path d="M530.9,391.4 C529.7,390.0 526.5,386.2 523.5,382.6 C520.4,379.0 516.3,373.9 512.5,369.8 C508.7,365.7 504.1,360.9 500.8,357.8 C497.4,354.7 493.8,352.3 492.4,351.2 L477.8,354.0 C478.3,355.2 478.0,358.1 480.5,361.2 C482.9,364.3 488.4,369.0 492.8,372.5 C497.2,375.9 502.3,378.9 506.8,381.7 C511.2,384.6 515.9,387.4 519.4,389.5 C523.0,391.6 526.8,393.7 528.2,394.6Z" fill="none" stroke="#000" stroke-width="2.2" stroke-linejoin="round" stroke-linecap="round"/>
<ellipse cx="533.1" cy="396.3" rx="5.2" ry="4" fill="#a7b1b6" stroke="#3a4246" stroke-width="1"/>
<path d="M599.5,536.0 L614.8,505.0 L633.3,477.2 L653.5,450.5 L684.6,412.0 L726.4,380.7 L768.3,363.9 L793.4,360.5 L822.7,356.9 L858.8,353.7 L898.0,340.4 L940.0,322.0 L972.0,312.0 L977.5,315.0 L976.5,319.5 L919.2,356.9 L888.6,375.7 L811.8,438.4 L770.0,466.0 L726.4,485.3 L688.8,509.3 L649.0,524.0Z" fill="#dddeea" stroke="#000" stroke-width="2.6" stroke-linejoin="round" stroke-linecap="round"/>
<path d="M976,319 L919.2,356.9 L888.6,375.7 L811.8,438.4 L790,452 L800,436 L880,372 L930,340 L968,318 Z" fill="#c9cadc"/>
<path d="M599.5,536 L649,524 L688.8,509.3 L726.4,485.3 L700,487 L660,505 Z" fill="#c9cadc"/>
<path d="M599.5,536 L655,470 L700,458 L680,478 Z" fill="#eaebf3"/>
<path d="M806,361 Q822,395 810,438 M815,380 Q870,360 905,345 M905,342 Q912,352 912,362" fill="none" stroke="#b4b5c6" stroke-width="1.2"/>
<path d="M599.5,536.0 L614.8,505.0 L633.3,477.2 L653.5,450.5 L684.6,412.0 L726.4,380.7 L768.3,363.9 L793.4,360.5 L822.7,356.9 L858.8,353.7 L898.0,340.4 L940.0,322.0 L972.0,312.0 L977.5,315.0 L976.5,319.5 L919.2,356.9 L888.6,375.7 L811.8,438.4 L770.0,466.0 L726.4,485.3 L688.8,509.3 L649.0,524.0Z" fill="none" stroke="#000" stroke-width="2.6" stroke-linejoin="round" stroke-linecap="round"/>
<path d="M898,340.4 L955.3,232.4 L979.6,242.5 L973.3,313.1 L977.5,316 L940,333 L905,346 Z" fill="#d6d7e5" stroke="#000" stroke-width="2.6" stroke-linejoin="round" stroke-linecap="round"/>
<path d="M957,236 L979.6,242.5 L973.3,313.1 L934,331 Z" fill="#bfc0d7"/>
<path d="M968,240 L979.6,242.5 L973.3,313.1 L958,320 Z" fill="#c9cadd"/>
<path d="M957,235 L979.6,242.5 L978.5,262 Z" fill="#a9aabc"/>
<path d="M898,340.4 L955.3,232.4 L979.6,242.5 L973.3,313.1 Q979,316 976.5,319.5" fill="none" stroke="#000" stroke-width="2.6" stroke-linejoin="round" stroke-linecap="round"/>
<path d="M905,345 L973.3,313.1 Q980,316 976.5,319.5 L919.2,356.9 L900,362 Z" fill="#dddeea"/>
<path d="M973.3,313.1 Q980,316 976.5,319.5 L919.2,356.9" fill="none" stroke="#000" stroke-width="2.6" stroke-linejoin="round" stroke-linecap="round"/>
<path d="M940,327 Q946,336 944,342" fill="none" stroke="#b4b5c6" stroke-width="1.2"/>
<path d="M927.8,172.7 L989,212.7 L1057.3,248 Q1056,252 1051.8,253.5 Q1045,259 1037.6,259 Q1028,259 1020.4,256.7 L979.6,242.5 L955.3,232.4 L915.3,195.5 Q910,190 911.4,186.9 Q913,181 927.8,172.7Z" fill="#dddeea" stroke="#000" stroke-width="2.6" stroke-linejoin="round" stroke-linecap="round"/>
<path d="M919,180 L948,208 L962,199 M948,208 L975,222 L1030,250 M994,236 L1005,225" fill="none" stroke="#b4b5c6" stroke-width="1.2"/>
<path d="M1010.7,440.8 C1009.2,441.9 1005.4,444.4 1001.7,446.9 C998.0,449.5 992.8,452.8 988.6,456.0 C984.3,459.1 979.4,463.0 976.2,465.9 C973.0,468.7 970.4,471.9 969.2,473.1 L971.0,487.5 C972.2,487.2 975.0,487.9 978.1,485.9 C981.3,483.8 986.2,479.1 989.8,475.3 C993.4,471.5 996.7,466.9 999.8,462.9 C1002.8,459.0 1005.8,454.9 1008.1,451.7 C1010.4,448.5 1012.7,445.1 1013.6,443.8Z" fill="#8f9a9f" stroke="#000" stroke-width="2.2" stroke-linejoin="round" stroke-linecap="round"/>
<path d="M1010.7,440.8 C1009.2,441.9 1005.4,444.4 1001.7,446.9 C998.0,449.5 992.8,452.8 988.6,456.0 C984.3,459.1 979.4,463.0 976.2,465.9 C973.0,468.7 970.4,471.9 969.2,473.1 L969.6,481.7 L1012.6,441.9 Z" fill="#a7b1b6"/>
<path d="M1010.7,440.8 C1009.2,441.9 1005.4,444.4 1001.7,446.9 C998.0,449.5 992.8,452.8 988.6,456.0 C984.3,459.1 979.4,463.0 976.2,465.9 C973.0,468.7 970.4,471.9 969.2,473.1 L971.0,487.5 C972.2,487.2 975.0,487.9 978.1,485.9 C981.3,483.8 986.2,479.1 989.8,475.3 C993.4,471.5 996.7,466.9 999.8,462.9 C1002.8,459.0 1005.8,454.9 1008.1,451.7 C1010.4,448.5 1012.7,445.1 1013.6,443.8Z" fill="none" stroke="#000" stroke-width="2.2" stroke-linejoin="round" stroke-linecap="round"/>
<path d="M1021.3,440.7 C1023.8,440.8 1030.4,441.2 1036.8,441.5 C1043.1,441.8 1051.9,442.3 1059.5,442.6 C1067.1,442.8 1076.1,443.0 1082.3,443.0 C1088.5,443.0 1094.4,442.6 1096.9,442.5 L1109.5,435.4 C1107.9,435.1 1105.6,433.7 1100.3,433.3 C1095.0,433.0 1085.1,433.2 1077.5,433.5 C1070.0,433.7 1061.9,434.5 1054.8,435.1 C1047.7,435.7 1040.4,436.3 1034.8,436.9 C1029.2,437.4 1023.5,438.0 1021.2,438.2Z" fill="#8f9a9f" stroke="#000" stroke-width="2.2" stroke-linejoin="round" stroke-linecap="round"/>
<path d="M1021.3,440.7 C1023.8,440.8 1030.4,441.2 1036.8,441.5 C1043.1,441.8 1051.9,442.3 1059.5,442.6 C1067.1,442.8 1076.1,443.0 1082.3,443.0 C1088.5,443.0 1094.4,442.6 1096.9,442.5 L1105.0,438.5 L1020.3,439.5 Z" fill="#a7b1b6"/>
<path d="M1021.3,440.7 C1023.8,440.8 1030.4,441.2 1036.8,441.5 C1043.1,441.8 1051.9,442.3 1059.5,442.6 C1067.1,442.8 1076.1,443.0 1082.3,443.0 C1088.5,443.0 1094.4,442.6 1096.9,442.5 L1109.5,435.4 C1107.9,435.1 1105.6,433.7 1100.3,433.3 C1095.0,433.0 1085.1,433.2 1077.5,433.5 C1070.0,433.7 1061.9,434.5 1054.8,435.1 C1047.7,435.7 1040.4,436.3 1034.8,436.9 C1029.2,437.4 1023.5,438.0 1021.2,438.2Z" fill="none" stroke="#000" stroke-width="2.2" stroke-linejoin="round" stroke-linecap="round"/>
<path d="M1013.3,434.1 C1012.1,432.7 1008.9,428.9 1005.9,425.3 C1002.8,421.7 998.7,416.6 994.9,412.5 C991.1,408.4 986.5,403.6 983.2,400.5 C979.8,397.4 976.2,395.0 974.8,393.9 L960.2,396.7 C960.7,397.9 960.4,400.8 962.9,403.9 C965.3,407.0 970.8,411.7 975.2,415.2 C979.6,418.6 984.7,421.6 989.2,424.4 C993.6,427.3 998.3,430.1 1001.8,432.2 C1005.4,434.3 1009.2,436.4 1010.6,437.3Z" fill="#8f9a9f" stroke="#000" stroke-width="2.2" stroke-linejoin="round" stroke-linecap="round"/>
<path d="M1013.3,434.1 C1012.1,432.7 1008.9,428.9 1005.9,425.3 C1002.8,421.7 998.7,416.6 994.9,412.5 C991.1,408.4 986.5,403.6 983.2,400.5 C979.8,397.4 976.2,395.0 974.8,393.9 L966.1,394.9 L1012.5,436.1 Z" fill="#a7b1b6"/>
<path d="M1013.3,434.1 C1012.1,432.7 1008.9,428.9 1005.9,425.3 C1002.8,421.7 998.7,416.6 994.9,412.5 C991.1,408.4 986.5,403.6 983.2,400.5 C979.8,397.4 976.2,395.0 974.8,393.9 L960.2,396.7 C960.7,397.9 960.4,400.8 962.9,403.9 C965.3,407.0 970.8,411.7 975.2,415.2 C979.6,418.6 984.7,421.6 989.2,424.4 C993.6,427.3 998.3,430.1 1001.8,432.2 C1005.4,434.3 1009.2,436.4 1010.6,437.3Z" fill="none" stroke="#000" stroke-width="2.2" stroke-linejoin="round" stroke-linecap="round"/>
<ellipse cx="1015.5" cy="439.0" rx="5.2" ry="4" fill="#a7b1b6" stroke="#3a4246" stroke-width="1"/>
<rect x="1010.8" y="392.0" width="8.4" height="49.0" fill="#a7b1b6"/>
<rect x="1016.2" y="392.0" width="3" height="49.0" fill="#8f9a9f"/>
<path d="M919.2,356.9 L1019.7,407.6 L1041.6,419.1 L1017.6,426.4 L981.2,411.8 L888.6,375.7 Z" fill="#dddeea" stroke="#000" stroke-width="2.6" stroke-linejoin="round" stroke-linecap="round"/>
<rect x="1010.8" y="392.0" width="8.4" height="20.0" fill="#a7b1b6"/>
<rect x="1016.2" y="392.0" width="3" height="20.0" fill="#8f9a9f"/>
<path d="M1009.6,392.7 C1008.1,393.8 1004.3,396.3 1000.6,398.8 C996.9,401.4 991.7,404.7 987.5,407.9 C983.2,411.0 978.3,414.9 975.1,417.8 C971.9,420.6 969.3,423.8 968.1,425.0 L969.9,439.4 C971.1,439.1 973.9,439.8 977.0,437.8 C980.2,435.7 985.1,431.0 988.7,427.2 C992.3,423.4 995.6,418.8 998.7,414.8 C1001.7,410.9 1004.7,406.8 1007.0,403.6 C1009.3,400.4 1011.6,397.0 1012.5,395.7Z" fill="#8f9a9f" stroke="#000" stroke-width="2.2" stroke-linejoin="round" stroke-linecap="round"/>
<path d="M1009.6,392.7 C1008.1,393.8 1004.3,396.3 1000.6,398.8 C996.9,401.4 991.7,404.7 987.5,407.9 C983.2,411.0 978.3,414.9 975.1,417.8 C971.9,420.6 969.3,423.8 968.1,425.0 L968.5,433.6 L1011.5,393.8 Z" fill="#a7b1b6"/>
<path d="M1009.6,392.7 C1008.1,393.8 1004.3,396.3 1000.6,398.8 C996.9,401.4 991.7,404.7 987.5,407.9 C983.2,411.0 978.3,414.9 975.1,417.8 C971.9,420.6 969.3,423.8 968.1,425.0 L969.9,439.4 C971.1,439.1 973.9,439.8 977.0,437.8 C980.2,435.7 985.1,431.0 988.7,427.2 C992.3,423.4 995.6,418.8 998.7,414.8 C1001.7,410.9 1004.7,406.8 1007.0,403.6 C1009.3,400.4 1011.6,397.0 1012.5,395.7Z" fill="none" stroke="#000" stroke-width="2.2" stroke-linejoin="round" stroke-linecap="round"/>
<path d="M1020.2,392.6 C1022.7,392.7 1029.3,393.1 1035.7,393.4 C1042.0,393.7 1050.8,394.2 1058.4,394.5 C1066.0,394.7 1075.0,394.9 1081.2,394.9 C1087.4,394.9 1093.3,394.5 1095.8,394.4 L1108.4,387.3 C1106.8,387.0 1104.5,385.6 1099.2,385.2 C1093.9,384.9 1084.0,385.1 1076.4,385.4 C1068.9,385.6 1060.8,386.4 1053.7,387.0 C1046.6,387.6 1039.3,388.2 1033.7,388.8 C1028.1,389.3 1022.4,389.9 1020.1,390.1Z" fill="#8f9a9f" stroke="#000" stroke-width="2.2" stroke-linejoin="round" stroke-linecap="round"/>
<path d="M1020.2,392.6 C1022.7,392.7 1029.3,393.1 1035.7,393.4 C1042.0,393.7 1050.8,394.2 1058.4,394.5 C1066.0,394.7 1075.0,394.9 1081.2,394.9 C1087.4,394.9 1093.3,394.5 1095.8,394.4 L1103.9,390.4 L1019.2,391.4 Z" fill="#a7b1b6"/>
<path d="M1020.2,392.6 C1022.7,392.7 1029.3,393.1 1035.7,393.4 C1042.0,393.7 1050.8,394.2 1058.4,394.5 C1066.0,394.7 1075.0,394.9 1081.2,394.9 C1087.4,394.9 1093.3,394.5 1095.8,394.4 L1108.4,387.3 C1106.8,387.0 1104.5,385.6 1099.2,385.2 C1093.9,384.9 1084.0,385.1 1076.4,385.4 C1068.9,385.6 1060.8,386.4 1053.7,387.0 C1046.6,387.6 1039.3,388.2 1033.7,388.8 C1028.1,389.3 1022.4,389.9 1020.1,390.1Z" fill="none" stroke="#000" stroke-width="2.2" stroke-linejoin="round" stroke-linecap="round"/>
<path d="M1012.2,386.0 C1011.0,384.6 1007.8,380.8 1004.8,377.2 C1001.7,373.6 997.6,368.5 993.8,364.4 C990.0,360.3 985.4,355.5 982.1,352.4 C978.7,349.3 975.1,346.9 973.7,345.8 L959.1,348.6 C959.6,349.8 959.3,352.7 961.8,355.8 C964.2,358.9 969.7,363.6 974.1,367.1 C978.5,370.5 983.6,373.5 988.1,376.3 C992.5,379.2 997.2,382.0 1000.7,384.1 C1004.3,386.2 1008.1,388.3 1009.5,389.2Z" fill="#8f9a9f" stroke="#000" stroke-width="2.2" stroke-linejoin="round" stroke-linecap="round"/>
<path d="M1012.2,386.0 C1011.0,384.6 1007.8,380.8 1004.8,377.2 C1001.7,373.6 997.6,368.5 993.8,364.4 C990.0,360.3 985.4,355.5 982.1,352.4 C978.7,349.3 975.1,346.9 973.7,345.8 L965.0,346.8 L1011.4,388.0 Z" fill="#a7b1b6"/>
<path d="M1012.2,386.0 C1011.0,384.6 1007.8,380.8 1004.8,377.2 C1001.7,373.6 997.6,368.5 993.8,364.4 C990.0,360.3 985.4,355.5 982.1,352.4 C978.7,349.3 975.1,346.9 973.7,345.8 L959.1,348.6 C959.6,349.8 959.3,352.7 961.8,355.8 C964.2,358.9 969.7,363.6 974.1,367.1 C978.5,370.5 983.6,373.5 988.1,376.3 C992.5,379.2 997.2,382.0 1000.7,384.1 C1004.3,386.2 1008.1,388.3 1009.5,389.2Z" fill="none" stroke="#000" stroke-width="2.2" stroke-linejoin="round" stroke-linecap="round"/>
<ellipse cx="1014.4" cy="390.9" rx="5.2" ry="4" fill="#a7b1b6" stroke="#3a4246" stroke-width="1"/>
<path d="M774.8,591.3 C773.3,592.4 769.5,594.9 765.8,597.4 C762.1,600.0 756.9,603.3 752.7,606.5 C748.4,609.6 743.5,613.5 740.3,616.4 C737.1,619.2 734.5,622.4 733.3,623.6 L735.1,638.0 C736.3,637.7 739.1,638.4 742.2,636.4 C745.4,634.3 750.3,629.6 753.9,625.8 C757.5,622.0 760.8,617.4 763.9,613.4 C766.9,609.5 769.9,605.4 772.2,602.2 C774.5,599.0 776.8,595.6 777.7,594.3Z" fill="#8f9a9f" stroke="#000" stroke-width="2.2" stroke-linejoin="round" stroke-linecap="round"/>
<path d="M774.8,591.3 C773.3,592.4 769.5,594.9 765.8,597.4 C762.1,600.0 756.9,603.3 752.7,606.5 C748.4,609.6 743.5,613.5 740.3,616.4 C737.1,619.2 734.5,622.4 733.3,623.6 L733.7,632.2 L776.7,592.4 Z" fill="#a7b1b6"/>
<path d="M774.8,591.3 C773.3,592.4 769.5,594.9 765.8,597.4 C762.1,600.0 756.9,603.3 752.7,606.5 C748.4,609.6 743.5,613.5 740.3,616.4 C737.1,619.2 734.5,622.4 733.3,623.6 L735.1,638.0 C736.3,637.7 739.1,638.4 742.2,636.4 C745.4,634.3 750.3,629.6 753.9,625.8 C757.5,622.0 760.8,617.4 763.9,613.4 C766.9,609.5 769.9,605.4 772.2,602.2 C774.5,599.0 776.8,595.6 777.7,594.3Z" fill="none" stroke="#000" stroke-width="2.2" stroke-linejoin="round" stroke-linecap="round"/>
<path d="M785.4,591.2 C787.9,591.3 794.5,591.7 800.9,592.0 C807.2,592.3 816.0,592.8 823.6,593.1 C831.2,593.3 840.2,593.5 846.4,593.5 C852.6,593.5 858.5,593.1 861.0,593.0 L873.6,585.9 C872.0,585.6 869.7,584.2 864.4,583.8 C859.1,583.5 849.2,583.7 841.6,584.0 C834.1,584.2 826.0,585.0 818.9,585.6 C811.8,586.2 804.5,586.8 798.9,587.4 C793.3,587.9 787.6,588.5 785.3,588.7Z" fill="#8f9a9f" stroke="#000" stroke-width="2.2" stroke-linejoin="round" stroke-linecap="round"/>
<path d="M785.4,591.2 C787.9,591.3 794.5,591.7 800.9,592.0 C807.2,592.3 816.0,592.8 823.6,593.1 C831.2,593.3 840.2,593.5 846.4,593.5 C852.6,593.5 858.5,593.1 861.0,593.0 L869.1,589.0 L784.4,590.0 Z" fill="#a7b1b6"/>
<path d="M785.4,591.2 C787.9,591.3 794.5,591.7 800.9,592.0 C807.2,592.3 816.0,592.8 823.6,593.1 C831.2,593.3 840.2,593.5 846.4,593.5 C852.6,593.5 858.5,593.1 861.0,593.0 L873.6,585.9 C872.0,585.6 869.7,584.2 864.4,583.8 C859.1,583.5 849.2,583.7 841.6,584.0 C834.1,584.2 826.0,585.0 818.9,585.6 C811.8,586.2 804.5,586.8 798.9,587.4 C793.3,587.9 787.6,588.5 785.3,588.7Z" fill="none" stroke="#000" stroke-width="2.2" stroke-linejoin="round" stroke-linecap="round"/>
<path d="M777.4,584.6 C776.2,583.2 773.0,579.4 770.0,575.8 C766.9,572.2 762.8,567.1 759.0,563.0 C755.2,558.9 750.6,554.1 747.3,551.0 C743.9,547.9 740.3,545.5 738.9,544.4 L724.3,547.2 C724.8,548.4 724.5,551.3 727.0,554.4 C729.4,557.5 734.9,562.2 739.3,565.7 C743.7,569.1 748.8,572.1 753.3,574.9 C757.7,577.8 762.4,580.6 765.9,582.7 C769.5,584.8 773.3,586.9 774.7,587.8Z" fill="#8f9a9f" stroke="#000" stroke-width="2.2" stroke-linejoin="round" stroke-linecap="round"/>
<path d="M777.4,584.6 C776.2,583.2 773.0,579.4 770.0,575.8 C766.9,572.2 762.8,567.1 759.0,563.0 C755.2,558.9 750.6,554.1 747.3,551.0 C743.9,547.9 740.3,545.5 738.9,544.4 L730.2,545.4 L776.6,586.6 Z" fill="#a7b1b6"/>
<path d="M777.4,584.6 C776.2,583.2 773.0,579.4 770.0,575.8 C766.9,572.2 762.8,567.1 759.0,563.0 C755.2,558.9 750.6,554.1 747.3,551.0 C743.9,547.9 740.3,545.5 738.9,544.4 L724.3,547.2 C724.8,548.4 724.5,551.3 727.0,554.4 C729.4,557.5 734.9,562.2 739.3,565.7 C743.7,569.1 748.8,572.1 753.3,574.9 C757.7,577.8 762.4,580.6 765.9,582.7 C769.5,584.8 773.3,586.9 774.7,587.8Z" fill="none" stroke="#000" stroke-width="2.2" stroke-linejoin="round" stroke-linecap="round"/>
<ellipse cx="779.6" cy="589.5" rx="5.2" ry="4" fill="#a7b1b6" stroke="#3a4246" stroke-width="1"/>
<rect x="774.8" y="542.0" width="8.4" height="49.0" fill="#a7b1b6"/>
<rect x="780.2" y="542.0" width="3" height="49.0" fill="#8f9a9f"/>
<path d="M690.7,509.8 L782,554 L805.8,570 L783,577 L766.5,570 L648.9,525.5 Z" fill="#dddeea" stroke="#000" stroke-width="2.6" stroke-linejoin="round" stroke-linecap="round"/>
<rect x="774.8" y="542.0" width="8.4" height="19.0" fill="#a7b1b6"/>
<rect x="780.2" y="542.0" width="3" height="19.0" fill="#8f9a9f"/>
<path d="M773.5,543.0 C772.0,544.1 768.2,546.6 764.5,549.1 C760.8,551.7 755.6,555.0 751.4,558.2 C747.1,561.3 742.2,565.2 739.0,568.1 C735.8,570.9 733.2,574.1 732.0,575.3 L733.8,589.7 C735.0,589.4 737.8,590.1 740.9,588.1 C744.1,586.0 749.0,581.3 752.6,577.5 C756.2,573.7 759.5,569.1 762.6,565.1 C765.6,561.2 768.6,557.1 770.9,553.9 C773.2,550.7 775.5,547.3 776.4,546.0Z" fill="#8f9a9f" stroke="#000" stroke-width="2.2" stroke-linejoin="round" stroke-linecap="round"/>
<path d="M773.5,543.0 C772.0,544.1 768.2,546.6 764.5,549.1 C760.8,551.7 755.6,555.0 751.4,558.2 C747.1,561.3 742.2,565.2 739.0,568.1 C735.8,570.9 733.2,574.1 732.0,575.3 L732.4,583.9 L775.4,544.1 Z" fill="#a7b1b6"/>
<path d="M773.5,543.0 C772.0,544.1 768.2,546.6 764.5,549.1 C760.8,551.7 755.6,555.0 751.4,558.2 C747.1,561.3 742.2,565.2 739.0,568.1 C735.8,570.9 733.2,574.1 732.0,575.3 L733.8,589.7 C735.0,589.4 737.8,590.1 740.9,588.1 C744.1,586.0 749.0,581.3 752.6,577.5 C756.2,573.7 759.5,569.1 762.6,565.1 C765.6,561.2 768.6,557.1 770.9,553.9 C773.2,550.7 775.5,547.3 776.4,546.0Z" fill="none" stroke="#000" stroke-width="2.2" stroke-linejoin="round" stroke-linecap="round"/>
<path d="M784.1,542.9 C786.6,543.0 793.2,543.4 799.6,543.7 C805.9,544.0 814.7,544.5 822.3,544.8 C829.9,545.0 838.9,545.2 845.1,545.2 C851.3,545.2 857.2,544.8 859.7,544.7 L872.3,537.6 C870.7,537.3 868.4,535.9 863.1,535.5 C857.8,535.2 847.9,535.4 840.3,535.7 C832.8,535.9 824.7,536.7 817.6,537.3 C810.5,537.9 803.2,538.5 797.6,539.1 C792.0,539.6 786.3,540.2 784.0,540.4Z" fill="#8f9a9f" stroke="#000" stroke-width="2.2" stroke-linejoin="round" stroke-linecap="round"/>
<path d="M784.1,542.9 C786.6,543.0 793.2,543.4 799.6,543.7 C805.9,544.0 814.7,544.5 822.3,544.8 C829.9,545.0 838.9,545.2 845.1,545.2 C851.3,545.2 857.2,544.8 859.7,544.7 L867.8,540.7 L783.1,541.7 Z" fill="#a7b1b6"/>
<path d="M784.1,542.9 C786.6,543.0 793.2,543.4 799.6,543.7 C805.9,544.0 814.7,544.5 822.3,544.8 C829.9,545.0 838.9,545.2 845.1,545.2 C851.3,545.2 857.2,544.8 859.7,544.7 L872.3,537.6 C870.7,537.3 868.4,535.9 863.1,535.5 C857.8,535.2 847.9,535.4 840.3,535.7 C832.8,535.9 824.7,536.7 817.6,537.3 C810.5,537.9 803.2,538.5 797.6,539.1 C792.0,539.6 786.3,540.2 784.0,540.4Z" fill="none" stroke="#000" stroke-width="2.2" stroke-linejoin="round" stroke-linecap="round"/>
<path d="M776.1,536.3 C774.9,534.9 771.7,531.1 768.7,527.5 C765.6,523.9 761.5,518.8 757.7,514.7 C753.9,510.6 749.3,505.8 746.0,502.7 C742.6,499.6 739.0,497.2 737.6,496.1 L723.0,498.9 C723.5,500.1 723.2,503.0 725.7,506.1 C728.1,509.2 733.6,513.9 738.0,517.4 C742.4,520.8 747.5,523.8 752.0,526.6 C756.4,529.5 761.1,532.3 764.6,534.4 C768.2,536.5 772.0,538.6 773.4,539.5Z" fill="#8f9a9f" stroke="#000" stroke-width="2.2" stroke-linejoin="round" stroke-linecap="round"/>
<path d="M776.1,536.3 C774.9,534.9 771.7,531.1 768.7,527.5 C765.6,523.9 761.5,518.8 757.7,514.7 C753.9,510.6 749.3,505.8 746.0,502.7 C742.6,499.6 739.0,497.2 737.6,496.1 L728.9,497.1 L775.3,538.3 Z" fill="#a7b1b6"/>
<path d="M776.1,536.3 C774.9,534.9 771.7,531.1 768.7,527.5 C765.6,523.9 761.5,518.8 757.7,514.7 C753.9,510.6 749.3,505.8 746.0,502.7 C742.6,499.6 739.0,497.2 737.6,496.1 L723.0,498.9 C723.5,500.1 723.2,503.0 725.7,506.1 C728.1,509.2 733.6,513.9 738.0,517.4 C742.4,520.8 747.5,523.8 752.0,526.6 C756.4,529.5 761.1,532.3 764.6,534.4 C768.2,536.5 772.0,538.6 773.4,539.5Z" fill="none" stroke="#000" stroke-width="2.2" stroke-linejoin="round" stroke-linecap="round"/>
<ellipse cx="778.3" cy="541.2" rx="5.2" ry="4" fill="#a7b1b6" stroke="#3a4246" stroke-width="1"/>
<path d="M799.7,428.8 L811.8,438.4 L950,512.4 L1080,577.3 L1032.4,593.5 L950,562 L900,543.8 L741,485.3 Q728,487 725,478 Q724,470 732,465.5 Z" fill="#dddeea"/>
<path d="M741,485.3 Q728,487 725,478 Q724,470 732,465.5 L799.7,428.8 L811.8,438.4" fill="none" stroke="#b9bacb" stroke-width="1.3"/>
<path d="M811.8,438.4 L950,512.4 L1080,577.3 L1032.4,593.5 L950,562 L900,543.8 L741,485.3" fill="none" stroke="#000" stroke-width="2.6" stroke-linejoin="round" stroke-linecap="round"/>
<path d="M852,466.4 L1049.3,570 L1040,574 M893,487 L868,509" fill="none" stroke="#b4b5c6" stroke-width="1.2"/>
<clipPath id="canclip"><path d="M654.7,447.6 C657.3,450.7 668.3,455.9 675.3,457.6 C682.3,459.4 689.6,459.3 696.5,458.2 C703.3,457.2 710.2,454.5 716.5,451.2 C722.7,447.8 728.4,443.1 734.1,438.2 C739.8,433.3 744.7,428.0 750.6,421.8 C756.5,415.5 763.7,407.5 769.4,400.6 C775.1,393.7 780.8,386.1 784.7,380.6 C788.6,375.1 792.4,370.8 792.9,367.6 C793.5,364.5 792.2,362.4 788.2,361.8 C784.3,361.2 776.5,362.4 769.4,364.1 C762.4,365.9 753.7,368.8 745.9,372.4 C738.0,375.9 730.2,380.2 722.4,385.3 C714.5,390.4 706.7,396.5 698.8,402.9 C691.0,409.4 681.8,418.0 675.3,424.1 C668.8,430.2 663.4,435.5 660.0,439.4 C656.6,443.3 652.2,444.6 654.7,447.6Z"/></clipPath>
<path d="M654.7,447.6 C657.3,450.7 668.3,455.9 675.3,457.6 C682.3,459.4 689.6,459.3 696.5,458.2 C703.3,457.2 710.2,454.5 716.5,451.2 C722.7,447.8 728.4,443.1 734.1,438.2 C739.8,433.3 744.7,428.0 750.6,421.8 C756.5,415.5 763.7,407.5 769.4,400.6 C775.1,393.7 780.8,386.1 784.7,380.6 C788.6,375.1 792.4,370.8 792.9,367.6 C793.5,364.5 792.2,362.4 788.2,361.8 C784.3,361.2 776.5,362.4 769.4,364.1 C762.4,365.9 753.7,368.8 745.9,372.4 C738.0,375.9 730.2,380.2 722.4,385.3 C714.5,390.4 706.7,396.5 698.8,402.9 C691.0,409.4 681.8,418.0 675.3,424.1 C668.8,430.2 663.4,435.5 660.0,439.4 C656.6,443.3 652.2,444.6 654.7,447.6Z" fill="none" stroke="#eeeef4" stroke-width="5.5"/>
<path d="M654.7,447.6 C657.3,450.7 668.3,455.9 675.3,457.6 C682.3,459.4 689.6,459.3 696.5,458.2 C703.3,457.2 710.2,454.5 716.5,451.2 C722.7,447.8 728.4,443.1 734.1,438.2 C739.8,433.3 744.7,428.0 750.6,421.8 C756.5,415.5 763.7,407.5 769.4,400.6 C775.1,393.7 780.8,386.1 784.7,380.6 C788.6,375.1 792.4,370.8 792.9,367.6 C793.5,364.5 792.2,362.4 788.2,361.8 C784.3,361.2 776.5,362.4 769.4,364.1 C762.4,365.9 753.7,368.8 745.9,372.4 C738.0,375.9 730.2,380.2 722.4,385.3 C714.5,390.4 706.7,396.5 698.8,402.9 C691.0,409.4 681.8,418.0 675.3,424.1 C668.8,430.2 663.4,435.5 660.0,439.4 C656.6,443.3 652.2,444.6 654.7,447.6Z" fill="#8f8ea2"/>
<g clip-path="url(#canclip)">
<path d="M651.8,448.8 L660.0,439.4 L715.3,390.0 L722.4,393.5 L715.3,411.2 L703.5,424.1 L676.5,431.2Z" fill="#a09fb1"/>
<path d="M685.9,431.2 L703.5,424.1 L715.3,411.2 L727.1,400.6 L722.4,424.1 L712.9,442.9 L696.5,447.6Z" fill="#77768c"/>
<path d="M712.9,442.9 L722.4,424.1 L727.1,400.6 L738.8,406.5 L749.4,422.9 L734.1,440.6 L716.5,452.4Z" fill="#5f5d76"/>
<path d="M716.5,388.8 L741.2,400.6 L749.4,422.9 L769.4,401.8 L796.5,367.6 L788.2,359.4 L757.6,365.3Z" fill="#6e6d84"/>
<path d="M717.6,387.6 L757.6,367.6 L789.4,360.6 L757.6,377.1 L734.1,393.5 L727.1,391.2Z" fill="#8e8da1"/>
<path d="M749.4,422.9 L747.6,406.5 L787.1,368.8 L795.3,366.5 L770.6,401.8Z" fill="#55536c"/>
</g>
<path d="M716.5,388.8 Q741.2,400.6 749.4,422.9" fill="none" stroke="#3a3850" stroke-width="3.6"/>
<path d="M716.5,388.8 Q741.2,400.6 749.4,422.9" fill="none" stroke="#eeeef4" stroke-width="2"/>
<path d="M654.7,447.6 C657.3,450.7 668.3,455.9 675.3,457.6 C682.3,459.4 689.6,459.3 696.5,458.2 C703.3,457.2 710.2,454.5 716.5,451.2 C722.7,447.8 728.4,443.1 734.1,438.2 C739.8,433.3 744.7,428.0 750.6,421.8 C756.5,415.5 763.7,407.5 769.4,400.6 C775.1,393.7 780.8,386.1 784.7,380.6 C788.6,375.1 792.4,370.8 792.9,367.6 C793.5,364.5 792.2,362.4 788.2,361.8 C784.3,361.2 776.5,362.4 769.4,364.1 C762.4,365.9 753.7,368.8 745.9,372.4 C738.0,375.9 730.2,380.2 722.4,385.3 C714.5,390.4 706.7,396.5 698.8,402.9 C691.0,409.4 681.8,418.0 675.3,424.1 C668.8,430.2 663.4,435.5 660.0,439.4 C656.6,443.3 652.2,444.6 654.7,447.6Z" fill="none" stroke="#1a1a2a" stroke-width="1.6"/>
<path d="M792.9,367.6 C792.2,366.7 792.2,362.4 788.2,361.8 C784.3,361.2 776.5,362.4 769.4,364.1 C762.4,365.9 753.7,368.8 745.9,372.4 C738.0,375.9 727.1,382.5 722.4,385.3 C717.6,388.0 718.4,388.2 717.6,388.8" fill="none" stroke="#000" stroke-width="2.6" stroke-linecap="round"/>
<rect x="690.7" y="176.3" width="207.4" height="142.7" rx="9" ry="9" fill="none" stroke="#f9c826" stroke-width="7.8"/>
<defs>
<linearGradient id="redg" x1="0" y1="0" x2="1" y2="0"><stop offset="0" stop-color="#b81f28"/><stop offset="0.22" stop-color="#e31e26"/><stop offset="0.8" stop-color="#e31e26"/><stop offset="1" stop-color="#c2202a"/></linearGradient>
<linearGradient id="motg" x1="0" y1="0" x2="1" y2="0"><stop offset="0" stop-color="#dcdde6"/><stop offset="0.5" stop-color="#cdced9"/><stop offset="1" stop-color="#c4c5d2"/></linearGradient>
<linearGradient id="pang" x1="0" y1="0" x2="1" y2="0"><stop offset="0" stop-color="#c6c7c9"/><stop offset="0.4" stop-color="#cfd0d2"/><stop offset="1" stop-color="#b9babd"/></linearGradient>
<g id="flogo">
<path d="M547.3,1831.6 L571.2,1815.5 L566.9,1830.4 L553.9,1838.2 L552.4,1846.9 L564.9,1839.3 L562.5,1846.9 L551.9,1853.6 L551.6,1861.5 L537.5,1869.9 L537.5,1846.9 Q541,1843 542.9,1839.8 Z"/>
<ellipse cx="536.7" cy="1833.5" rx="4.6" ry="7.3" transform="rotate(28 536.7 1833.5)"/>
</g>
<g id="lsb">
<path d="M468.4,1800 L554.7,1751.2 L581.5,1764.7 L581.9,1774.5 L586.9,1778 L586.9,1862.5 L503,1912.7 L469.8,1895.3 Z" fill="var(--k,#231f20)" stroke="var(--k,#231f20)" stroke-width="7" stroke-linejoin="round"/>
<path d="M473,1805.5 L502.2,1822.5 L583.8,1780.5 L585,1860.8 L504.5,1908.5 L473,1892 Z" fill="var(--r,url(#redg))"/>
<path d="M478.6,1802.2 L554.7,1755.9 L578.2,1769.2 L502.2,1811.6 Z" fill="#e4e4e5"/>
<path d="M478.6,1802.2 L502.2,1811.6 L502.2,1817.4 L478.6,1807.2 Z" fill="#c9c9cb"/>
<path d="M502.2,1811.6 L578.2,1769.2 L578.2,1775 L502.2,1817.4 Z" fill="#f7f7f7"/>
<ellipse cx="528.8" cy="1783.3" rx="8.4" ry="5.4" fill="var(--h,#4d4d4f)" stroke="var(--hs,#8a8a8c)" stroke-width="1.2"/>
<use href="#flogo" fill="#fff"/>
<g transform="translate(421.4 1893.1) rotate(-25.4)">
<path d="M48,-18 L70,-18 A10,18 0 0 1 70,18 L48,18 Z" fill="#e6e6e7" stroke="var(--k,#231f20)" stroke-width="3.4" stroke-linejoin="round"/>
<path d="M21,-19.6 L48,-20 A9,20 0 0 1 48,20 L21,19.6 A9,19.6 0 0 0 21,-19.6Z" fill="var(--k,#231f20)" stroke="var(--k,#231f20)" stroke-width="3.4" stroke-linejoin="round"/>
<path d="M30,-19 A9,19.5 0 0 1 30,19 M38.5,-19.4 A9,19.8 0 0 1 38.5,19.4" fill="none" stroke="#e6e6e7" stroke-width="2.2"/>
<path d="M0,-13 L21,-19.4 A9,19.4 0 0 1 21,19.4 L0,13 Z" fill="#e2e2e3" stroke="var(--k,#231f20)" stroke-width="3.4" stroke-linejoin="round"/>
<ellipse cx="0" cy="0" rx="8.4" ry="13" fill="#e2e2e3" stroke="var(--k,#231f20)" stroke-width="3.4"/>
<ellipse cx="0" cy="0" rx="4.6" ry="7.6" fill="var(--h,#58595b)" stroke="var(--k,#231f20)" stroke-width="2.4"/>
</g>
</g>
</defs>
<path d="M578.2,1393.0 L1034.5,1654.1 L1487.2,1389.8 L1487.2,1397.8 L1034.5,1661.1 L579.2,1400.0Z" fill="#f0f0f0" stroke="#000" stroke-width="2.2" stroke-linejoin="round"/>
<path d="M1030.9,1128.7 L1487.2,1389.8 L1034.5,1654.1 L578.2,1393.0Z" fill="#e4e4e5" stroke="#000" stroke-width="2.2" stroke-linejoin="round"/>
<path d="M962,1167.2 L890,1209 M940,1262.7 L719.3,1391" fill="none" stroke="#f9c826" stroke-width="6.6" stroke-linejoin="round"/>
<path d="M1357,1383 L1267.9,1429 L1210.7,1396.2 L968.8,1535.4" fill="none" stroke="#f9c826" stroke-width="6.6" stroke-linejoin="round"/>
<use href="#lsb" transform="translate(1046.4 1077.1) scale(0.6270) translate(-554.7 -1749.6)"/>
<use href="#lsb" transform="translate(667.5 1292.0) scale(0.6270) translate(-554.7 -1749.6)"/>
<use href="#lsb" transform="translate(1438.3 1293.6) scale(0.6270) translate(-554.7 -1749.6)"/>
<use href="#lsb" transform="translate(1058.8 1519.2) scale(0.6270) translate(-554.7 -1749.6)"/>
<path d="M586,1382 L329.7,1529.3 L776,1785.3 L776,1919 L964.7,1814.7 L964.7,1677.5 L915,1647.5 L975,1607.5" fill="none" stroke="#f9c826" stroke-width="6.6" stroke-linejoin="round"/>
<path d="M719.3,1391 L471.5,1537.6 L839.2,1750 L839.2,1884" fill="none" stroke="#f9c826" stroke-width="6.6" stroke-linejoin="round"/>
<path d="M968.8,1535.4 L782.6,1641.9 L902,1711.4 L902,1849" fill="none" stroke="#f9c826" stroke-width="6.6" stroke-linejoin="round"/>
<path d="M876.5,1864 L876.5,1939.2 L915,1961 M960,1990 L1032.5,2031.8 L1190,1940" fill="none" stroke="#f9c826" stroke-width="6.6" stroke-linejoin="round"/>
<path d="M578.2,1307.6 L1034.5,1568.6 L1487.2,1305.3 L1487.2,1313.1 L1034.5,1576.4 L579.2,1315.4Z" fill="#f4f4f4" fill-opacity="0.78" stroke="#000" stroke-width="2.2" stroke-linejoin="round"/>
<path d="M1030.7,1041.8 L1487.2,1305.3 L1034.5,1568.6 L578.2,1307.6Z" fill="#e9e9ea" fill-opacity="0.78" stroke="#000" stroke-width="2.2" stroke-linejoin="round"/>
<path d="M1034.5,1568.6 L1034.5,1576.4" stroke="#000" stroke-width="2"/>
<clipPath id="plateclip"><path d="M1030.7,1041.8 L1487.2,1305.3 L1487.2,1313.1 L1034.5,1576.4 L578.2,1315.4 L578.2,1307.6Z"/></clipPath>
<g clip-path="url(#plateclip)"><use href="#lsb" style="--k:#b7b7b8;--r:#edb9a5;--h:#c4c4c5;--hs:#c4c4c5" transform="translate(1046.4 1077.1) scale(0.6270) translate(-554.7 -1749.6)"/></g>
<g clip-path="url(#plateclip)"><use href="#lsb" style="--k:#b7b7b8;--r:#edb9a5;--h:#c4c4c5;--hs:#c4c4c5" transform="translate(667.5 1292.0) scale(0.6270) translate(-554.7 -1749.6)"/></g>
<g clip-path="url(#plateclip)"><use href="#lsb" style="--k:#b7b7b8;--r:#edb9a5;--h:#c4c4c5;--hs:#c4c4c5" transform="translate(1438.3 1293.6) scale(0.6270) translate(-554.7 -1749.6)"/></g>
<g clip-path="url(#plateclip)"><use href="#lsb" style="--k:#b7b7b8;--r:#edb9a5;--h:#c4c4c5;--hs:#c4c4c5" transform="translate(1058.8 1519.2) scale(0.6270) translate(-554.7 -1749.6)"/></g>
<path d="M1030.7,1041.8 L1487.2,1305.3 L1034.5,1568.6 L578.2,1307.6Z" fill="none" stroke="#000" stroke-width="2.2" stroke-linejoin="round"/>
<path d="M578.2,1307.6 L1034.5,1568.6 L1487.2,1305.3 L1487.2,1313.1 L1034.5,1576.4 L579.2,1315.4Z" fill="none" stroke="#000" stroke-width="2.2" stroke-linejoin="round"/>
<ellipse cx="651.8" cy="1306.3" rx="11.2" ry="7.9" fill="#808285" stroke="#000" stroke-width="2"/>
<path d="M654.3,1298.7 Q660.8,1305.3 657.8,1312.7" fill="none" stroke="#000" stroke-width="1.6"/>
<ellipse cx="1028.1" cy="1091.5" rx="11.2" ry="7.9" fill="#808285" stroke="#000" stroke-width="2"/>
<path d="M1030.6,1083.9 Q1037.1,1090.5 1034.1,1097.9" fill="none" stroke="#000" stroke-width="1.6"/>
<ellipse cx="1422.5" cy="1308.6" rx="11.2" ry="7.9" fill="#808285" stroke="#000" stroke-width="2"/>
<path d="M1425.0,1301.0 Q1431.5,1307.6 1428.5,1315.0" fill="none" stroke="#000" stroke-width="1.6"/>
<ellipse cx="1043.9" cy="1534.1" rx="11.2" ry="7.9" fill="#808285" stroke="#000" stroke-width="2"/>
<path d="M1046.4,1526.5 Q1052.9,1533.1 1049.9,1540.5" fill="none" stroke="#000" stroke-width="1.6"/>
<path d="M927.0,1259.5 L927.0,1317.5 A103.0,59.5 0 0 0 1133.0,1317.5 L1133.0,1259.5 Z" fill="url(#motg)" stroke="#000" stroke-width="2.2"/>
<ellipse cx="1030.0" cy="1259.5" rx="103.0" ry="59.5" fill="#dfe0e7" stroke="#000" stroke-width="2.2"/>
<ellipse cx="1030.0" cy="1254.5" rx="97.5" ry="56" fill="#f5f5f6" stroke="#000" stroke-width="2"/>
<ellipse cx="1029.4" cy="1256" rx="61.2" ry="33" fill="#cbccd8" stroke="#000" stroke-width="2.2"/>
<path d="M1004.7,1222 L1004.7,1259 A21.8,9 0 0 0 1048.3,1259 L1048.3,1222 Z" fill="#a3adb3" stroke="#000" stroke-width="2.2"/>
<ellipse cx="1026.5" cy="1232" rx="19" ry="5" fill="#6d777c"/>
<path d="M620.1,1209.2 C630.1,1208.5 659.5,1205.9 680.0,1205.0 C700.5,1204.1 714.7,1203.8 743.0,1204.0 C771.3,1204.2 813.8,1204.9 850.0,1206.0 C886.2,1207.1 934.0,1209.3 960.0,1210.5 C986.0,1211.7 998.3,1212.6 1006.0,1213.0 L1010.6,1228.5 C1002.2,1229.6 978.4,1233.0 960.0,1235.3 C941.6,1237.6 920.9,1240.3 900.0,1242.5 C879.1,1244.7 860.7,1248.1 834.5,1248.4 C808.3,1248.7 765.4,1245.7 743.0,1244.4 C720.6,1243.1 714.2,1241.8 700.0,1240.5 C685.8,1239.2 665.0,1237.2 658.0,1236.6Z" fill="#a3adb3" stroke="#000" stroke-width="2.2" stroke-linejoin="round"/>
<path d="M1027.0,1233.0 C1033.3,1240.6 1050.6,1260.6 1064.7,1278.8 C1078.8,1297.0 1096.1,1323.6 1111.8,1342.4 C1127.5,1361.2 1145.1,1378.1 1158.8,1391.8 C1172.5,1405.5 1185.5,1417.7 1194.1,1424.7 C1202.7,1431.8 1207.8,1432.5 1210.6,1434.1 L1231.8,1401.2 C1228.7,1395.7 1221.1,1381.5 1212.9,1368.2 C1204.7,1354.9 1191.4,1333.0 1182.4,1321.2 C1173.4,1309.4 1170.6,1306.6 1158.8,1297.6 C1147.0,1288.6 1125.5,1276.0 1111.8,1267.0 C1098.1,1258.0 1086.7,1250.3 1076.5,1243.5 C1066.3,1236.7 1054.9,1228.8 1050.6,1225.9Z" fill="#8a959b" stroke="#000" stroke-width="2.2" stroke-linejoin="round"/>
<path d="M1033.3,1193.5 C1037.2,1185.7 1047.3,1161.2 1056.9,1146.4 C1066.5,1131.6 1077.7,1118.1 1090.8,1104.6 C1103.9,1091.1 1118.5,1078.2 1135.3,1065.4 C1152.1,1052.6 1182.1,1033.8 1191.5,1027.5 L1250.3,1023.0 C1250.6,1023.7 1254.6,1021.5 1252.0,1027.0 C1249.4,1032.5 1245.3,1043.7 1234.6,1056.2 C1223.9,1068.7 1204.1,1087.6 1187.6,1102.0 C1171.0,1116.4 1152.7,1128.1 1135.3,1142.5 C1117.9,1156.9 1097.0,1175.8 1083.0,1188.2 C1069.0,1200.6 1056.8,1212.2 1051.6,1217.0Z" fill="#a3adb3" stroke="#000" stroke-width="2.2" stroke-linejoin="round"/>
<ellipse cx="1028.2" cy="1211.8" rx="23.5" ry="18.8" fill="#a3adb3" stroke="#000" stroke-width="2.2"/>
<path d="M776.5,1863.7 L1035,1721 L1187.5,1721" fill="none" stroke="#a3211f" stroke-width="1.8"/>
<g transform="translate(776.5 1862.7)">
<path d="M-9.2,-15.7 L-4.3,-13.7 L10.4,-20.6 L10.4,11.8 L-4.3,18.6 L-9.2,15.7 Z" fill="#000" stroke="#000" stroke-width="14" stroke-linejoin="round"/>
<path d="M-7,15 L6,9 L6,22 L-2,26 L-7,23Z" fill="#000" stroke="#000" stroke-width="5" stroke-linejoin="round"/>
<path d="M-9.2,-15.2 L-4.3,-13.4 L-4.3,18.3 L-9.2,15.4 Z" fill="#e2323c"/>
<path d="M-5.6,-17.6 L8.6,-24 L10.4,-20.6 L-4.3,-13.7 L-9.2,-15.7 Z" fill="#e2323c"/>
<path d="M-3.4,-13.2 L10.4,-19.8 L10.4,11.6 L-3.4,18 Z" fill="#c8202c"/>
<path d="M-4.3,-13.7 L-4.3,18.6" stroke="#000" stroke-width="1.4"/>
<path d="M-1.5,-9.8 l1.6,-0.8 M2.6,-11.7 l1.6,-0.8 M6.6,-13.6 l1.6,-0.8" stroke="#7a0f18" stroke-width="1.8"/>
<path d="M-2.5,19.8 L5,16.2 L5,18.2 L-2.5,21.8Z" fill="#c7c8ca"/>
</g>
<g transform="translate(839.4 1827.0)">
<path d="M-9.2,-15.7 L-4.3,-13.7 L10.4,-20.6 L10.4,11.8 L-4.3,18.6 L-9.2,15.7 Z" fill="#000" stroke="#000" stroke-width="14" stroke-linejoin="round"/>
<path d="M-7,15 L6,9 L6,22 L-2,26 L-7,23Z" fill="#000" stroke="#000" stroke-width="5" stroke-linejoin="round"/>
<path d="M-9.2,-15.2 L-4.3,-13.4 L-4.3,18.3 L-9.2,15.4 Z" fill="#e2323c"/>
<path d="M-5.6,-17.6 L8.6,-24 L10.4,-20.6 L-4.3,-13.7 L-9.2,-15.7 Z" fill="#e2323c"/>
<path d="M-3.4,-13.2 L10.4,-19.8 L10.4,11.6 L-3.4,18 Z" fill="#c8202c"/>
<path d="M-4.3,-13.7 L-4.3,18.6" stroke="#000" stroke-width="1.4"/>
<path d="M-1.5,-9.8 l1.6,-0.8 M2.6,-11.7 l1.6,-0.8 M6.6,-13.6 l1.6,-0.8" stroke="#7a0f18" stroke-width="1.8"/>
<path d="M-2.5,19.8 L5,16.2 L5,18.2 L-2.5,21.8Z" fill="#c7c8ca"/>
</g>
<g transform="translate(901.8 1790.6)">
<path d="M-9.2,-15.7 L-4.3,-13.7 L10.4,-20.6 L10.4,11.8 L-4.3,18.6 L-9.2,15.7 Z" fill="#000" stroke="#000" stroke-width="14" stroke-linejoin="round"/>
<path d="M-7,15 L6,9 L6,22 L-2,26 L-7,23Z" fill="#000" stroke="#000" stroke-width="5" stroke-linejoin="round"/>
<path d="M-9.2,-15.2 L-4.3,-13.4 L-4.3,18.3 L-9.2,15.4 Z" fill="#e2323c"/>
<path d="M-5.6,-17.6 L8.6,-24 L10.4,-20.6 L-4.3,-13.7 L-9.2,-15.7 Z" fill="#e2323c"/>
<path d="M-3.4,-13.2 L10.4,-19.8 L10.4,11.6 L-3.4,18 Z" fill="#c8202c"/>
<path d="M-4.3,-13.7 L-4.3,18.6" stroke="#000" stroke-width="1.4"/>
<path d="M-1.5,-9.8 l1.6,-0.8 M2.6,-11.7 l1.6,-0.8 M6.6,-13.6 l1.6,-0.8" stroke="#7a0f18" stroke-width="1.8"/>
<path d="M-2.5,19.8 L5,16.2 L5,18.2 L-2.5,21.8Z" fill="#c7c8ca"/>
</g>
<g transform="translate(963.9 1754.9)">
<path d="M-9.2,-15.7 L-4.3,-13.7 L10.4,-20.6 L10.4,11.8 L-4.3,18.6 L-9.2,15.7 Z" fill="#000" stroke="#000" stroke-width="14" stroke-linejoin="round"/>
<path d="M-7,15 L6,9 L6,22 L-2,26 L-7,23Z" fill="#000" stroke="#000" stroke-width="5" stroke-linejoin="round"/>
<path d="M-9.2,-15.2 L-4.3,-13.4 L-4.3,18.3 L-9.2,15.4 Z" fill="#e2323c"/>
<path d="M-5.6,-17.6 L8.6,-24 L10.4,-20.6 L-4.3,-13.7 L-9.2,-15.7 Z" fill="#e2323c"/>
<path d="M-3.4,-13.2 L10.4,-19.8 L10.4,11.6 L-3.4,18 Z" fill="#c8202c"/>
<path d="M-4.3,-13.7 L-4.3,18.6" stroke="#000" stroke-width="1.4"/>
<path d="M-1.5,-9.8 l1.6,-0.8 M2.6,-11.7 l1.6,-0.8 M6.6,-13.6 l1.6,-0.8" stroke="#7a0f18" stroke-width="1.8"/>
<path d="M-2.5,19.8 L5,16.2 L5,18.2 L-2.5,21.8Z" fill="#c7c8ca"/>
</g>
<path d="M871.8,2022.4 L910.2,2000.4" stroke="#a3211f" stroke-width="1.8"/>
<path d="M888.2,1966.7 L949.4,1931.4 L993.6,1957.3 L993,1978.4 L932.9,2014.5 L888.7,1988.6Z" fill="#000" stroke="#000" stroke-width="2" stroke-linejoin="round"/>
<path d="M896.4,1970.9 L949.4,1939.2 L986.7,1960.4 L933.7,1990.7Z" fill="#8e9093"/>
<path d="M896.4,1970.9 L933.7,1990.7 L933.7,2006.7 L895.8,1985.5Z" fill="#5e5f62"/>
<path d="M933.7,1990.7 L986.7,1960.4 L986.7,1975.3 L933.7,2006.7Z" fill="#6d6e71"/>
<path d="M950.2,1984.7 l4,-2.3 l0,9.4 l-4,2.3z" fill="#000"/>
<path d="M960.2,1978.9 l4,-2.3 l0,9.4 l-4,2.3z" fill="#000"/>
<path d="M970.2,1973.1 l4,-2.3 l0,9.4 l-4,2.3z" fill="#000"/>
<path d="M980.2,1967.3 l4,-2.3 l0,9.4 l-4,2.3z" fill="#000"/>
<circle cx="940.3" cy="1995" r="2.4" fill="#000"/>
<path d="M1314,1860.2 L1350.2,1839.6 L1455,1839.6" fill="none" stroke="#a3211f" stroke-width="1.8"/>
<path d="M1133,1818.3 L1256.3,1749.5 L1284,1850 L1368.2,1897.8 L1368.2,1904 L1245.3,1976 L1160.3,1931 L1160.3,1924.5 Z" fill="#000" stroke="#000" stroke-width="10" stroke-linejoin="round"/>
<path d="M1136.5,1819 L1256,1752.4 L1282.5,1847.5 L1162,1918 Z" fill="#c9cacf"/>
<path d="M1148.2,1823 L1250.2,1767 L1270.8,1845.5 L1167.8,1905.3 Z" fill="#000"/>
<path d="M1163,1924 L1284.5,1854.3 L1365,1899.4 L1244.3,1973 Z" fill="#c9cacf"/>
<path d="M1176.7,1923 L1283.5,1864 L1326.7,1886.7 L1218.8,1946.5 Z M1265,1930.8 L1304,1909.2 L1320.8,1918 L1282.5,1940.6 Z" fill="none" stroke="#808285" stroke-width="2"/>
<text transform="translate(1180.5 1863.5) rotate(-29.5) skewX(-18)" font-size="17.5" font-weight="700" fill="#f5d21f" stroke="#f5d21f" stroke-width="0.7" textLength="86" lengthAdjust="spacingAndGlyphs">SENSIT</text>
<path d="M1173,1850.5 l5.5,-3.2 q2.6,-1 2.6,2 l-1.2,6.6 l-6,3.5 q-2.6,1 -2.2,-2 z M1168,1862 l5.5,-3.2 q2.6,-1 2.6,2 l-1.2,6.6 l-6,3.5 q-2.6,1 -2.2,-2 z" fill="none" stroke="#c9cacf" stroke-width="1.7" stroke-linejoin="round"/>
<circle cx="312.5" cy="978.7" r="202.8" fill="#fff" stroke="#f7981d" stroke-width="9.5"/>
<path d="M159.5,915 L159.5,977 A152.5,88 0 0 0 464.5,977 L464.5,915 A152.5,88 0 0 0 159.5,915Z" fill="#000"/>
<path d="M167.5,915 L167.5,974.5 A144.5,81.5 0 0 0 456.5,974.5 L456.5,915Z" fill="url(#pang)"/>
<ellipse cx="312" cy="915" rx="144.5" ry="82.5" fill="#bbbcbe" stroke="#000" stroke-width="2"/>
<path d="M167.5,923 A144.5,82.5 0 0 0 456.5,923" fill="none" stroke="#000" stroke-width="1.6"/>
<ellipse cx="312.5" cy="914.5" rx="134" ry="75.5" fill="#bbbcbe" stroke="#000" stroke-width="1.8"/>
<ellipse cx="312.3" cy="915" rx="106.5" ry="61" fill="#d1d2d4" stroke="#000" stroke-width="1.8"/>
<path d="M269.4,902.4 L269.4,916.5 A42.4,24.7 0 0 0 354.2,916.5 L354.2,902.4Z" fill="#c4c5c7" stroke="#000" stroke-width="1.8"/>
<ellipse cx="311.8" cy="902.4" rx="42.4" ry="24.7" fill="#d6d7d9" stroke="#000" stroke-width="1.8"/>
<ellipse cx="311.8" cy="902.4" rx="20.7" ry="12.2" fill="#9fa1a4" stroke="#000" stroke-width="1.8"/>
<ellipse cx="432.8" cy="915.0" rx="9" ry="5.6" fill="#4a4a4c" stroke="#000" stroke-width="1.6"/>
<ellipse cx="397.4" cy="964.5" rx="9" ry="5.6" fill="#4a4a4c" stroke="#000" stroke-width="1.6"/>
<ellipse cx="311.8" cy="985.0" rx="9" ry="5.6" fill="#4a4a4c" stroke="#000" stroke-width="1.6"/>
<ellipse cx="226.2" cy="964.5" rx="9" ry="5.6" fill="#4a4a4c" stroke="#000" stroke-width="1.6"/>
<ellipse cx="190.8" cy="915.0" rx="9" ry="5.6" fill="#4a4a4c" stroke="#000" stroke-width="1.6"/>
<ellipse cx="226.2" cy="865.5" rx="9" ry="5.6" fill="#4a4a4c" stroke="#000" stroke-width="1.6"/>
<ellipse cx="311.8" cy="845.0" rx="9" ry="5.6" fill="#4a4a4c" stroke="#000" stroke-width="1.6"/>
<ellipse cx="397.4" cy="865.5" rx="9" ry="5.6" fill="#4a4a4c" stroke="#000" stroke-width="1.6"/>
<use href="#flogo" fill="#3c3c3e" transform="translate(407.5 1010.5) scale(0.98 0.98) translate(-552 -1843)"/>
<use href="#lsb" transform="translate(554.7 1749.6) scale(1.0000) translate(-554.7 -1749.6)"/>
<text x="137.0" y="584.5" font-size="26" fill="#1c7a4c" textLength="123.5" lengthAdjust="spacing">F<tspan font-size="15.5" dy="5" font-weight="700">1</tspan><tspan dy="-5">=Δm</tspan><tspan font-size="15.5" dy="5" font-weight="700">1</tspan><tspan dy="-5">·g</tspan></text>
<text x="162.8" y="618.0" font-size="26" fill="#1c7a4c" textLength="70.5" lengthAdjust="spacing">(x<tspan font-size="15.5" dy="5" font-weight="700">1</tspan><tspan dy="-5">,y</tspan><tspan font-size="15.5" dy="5" font-weight="700">1</tspan><tspan dy="-5">)</tspan></text>
<text x="1117.5" y="746.0" font-size="26" fill="#1c7a4c" textLength="127.5" lengthAdjust="spacing">F<tspan font-size="15.5" dy="5" font-weight="700">2</tspan><tspan dy="-5">=Δm</tspan><tspan font-size="15.5" dy="5" font-weight="700">2</tspan><tspan dy="-5">·g</tspan></text>
<text x="1142.5" y="779.5" font-size="26" fill="#1c7a4c" textLength="76.5" lengthAdjust="spacing">(x<tspan font-size="15.5" dy="5" font-weight="700">2</tspan><tspan dy="-5">,y</tspan><tspan font-size="15.5" dy="5" font-weight="700">2</tspan><tspan dy="-5">)</tspan></text>
<text x="1294.0" y="400.0" font-size="26" fill="#1c7a4c" textLength="127.0" lengthAdjust="spacing">F<tspan font-size="15.5" dy="5" font-weight="700">3</tspan><tspan dy="-5">=Δm</tspan><tspan font-size="15.5" dy="5" font-weight="700">3</tspan><tspan dy="-5">·g</tspan></text>
<text x="1320.0" y="432.5" font-size="26" fill="#1c7a4c" textLength="75.0" lengthAdjust="spacing">(x<tspan font-size="15.5" dy="5" font-weight="700">3</tspan><tspan dy="-5">,y</tspan><tspan font-size="15.5" dy="5" font-weight="700">3</tspan><tspan dy="-5">)</tspan></text>
<text x="337.0" y="210.0" font-size="26" fill="#1c7a4c" textLength="128.7" lengthAdjust="spacing">F<tspan font-size="15.5" dy="5" font-weight="700">4</tspan><tspan dy="-5">=Δm</tspan><tspan font-size="15.5" dy="5" font-weight="700">4</tspan><tspan dy="-5">·g</tspan></text>
<text x="363.0" y="242.0" font-size="26" fill="#1c7a4c" textLength="76.5" lengthAdjust="spacing">(x<tspan font-size="15.5" dy="5" font-weight="700">4</tspan><tspan dy="-5">,y</tspan><tspan font-size="15.5" dy="5" font-weight="700">4</tspan><tspan dy="-5">)</tspan></text>
<text x="38.3" y="394.0" font-size="22" fill="#9e1f21" text-anchor="start" textLength="85.0" lengthAdjust="spacingAndGlyphs">Platform</text>
<path d="M37.7,410.7 L144.4,410.7 L288.7,496.9" fill="none" stroke="#a3211f" stroke-width="1.8"/>
<text x="1364.0" y="1122.5" font-size="22" fill="#9e1f21" text-anchor="start" textLength="86.0" lengthAdjust="spacingAndGlyphs">Platform</text>
<path d="M1451,1138.5 L1345,1138.5 L1272.5,1180" fill="none" stroke="#a3211f" stroke-width="1.8"/>
<text x="223.5" y="1111.0" font-size="26" fill="#000" text-anchor="start" textLength="176.5" lengthAdjust="spacingAndGlyphs">4 × LCF Series</text>
<text x="219.0" y="1137.5" font-size="22" fill="#b3203a" text-anchor="start" textLength="185.0" lengthAdjust="spacingAndGlyphs">Pancake Load Cell</text>
<text x="444.0" y="1954.0" font-size="26" fill="#000" text-anchor="start" textLength="138.5" lengthAdjust="spacingAndGlyphs">4 × LSB206</text>
<text x="450.0" y="1981.0" font-size="22" fill="#b3203a" text-anchor="start" textLength="127.5" lengthAdjust="spacingAndGlyphs">S-Beam Jr.™</text>
<text x="467.5" y="2007.0" font-size="22" fill="#b3203a" text-anchor="start" textLength="93.5" lengthAdjust="spacingAndGlyphs">Load Cell</text>
<text x="687.5" y="1982.5" font-size="23" fill="#9e1f21" text-anchor="start" textLength="88.0" lengthAdjust="spacingAndGlyphs">Ethernet</text>
<text x="687.5" y="2009.0" font-size="23" fill="#9e1f21" text-anchor="start" textLength="160.0" lengthAdjust="spacingAndGlyphs">Network Switch</text>
<path d="M687.5,2022.4 L871.8,2022.4" fill="none" stroke="#a3211f" stroke-width="1.8"/>
<text x="1036.5" y="1707.5" font-size="21.5" fill="#9e1f21" text-anchor="start" textLength="107.5" lengthAdjust="spacingAndGlyphs">USB Series</text>
<text x="1036.5" y="1745.0" font-size="20" fill="#9e1f21" text-anchor="start" textLength="152.5" lengthAdjust="spacingAndGlyphs">One per load cell</text>
<text x="1352.0" y="1826.0" font-size="22" fill="#9e1f21" text-anchor="start" textLength="103.0" lengthAdjust="spacingAndGlyphs">Computer</text>
</svg></body></html>
